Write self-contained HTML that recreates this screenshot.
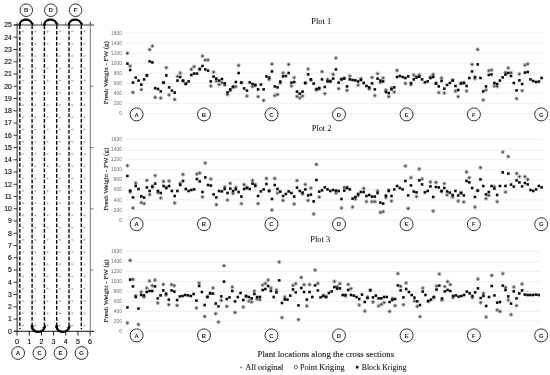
<!DOCTYPE html><html><head><meta charset="utf-8"><title>Figure</title>
<style>
html,body{margin:0;padding:0;background:#fff;}
svg{display:block;filter:blur(0.3px);}
.sans{font-family:"Liberation Sans",sans-serif;}
.serif{font-family:"Liberation Serif",serif;}
</style></head><body>
<svg width="550" height="375" viewBox="0 0 550 375">
<rect width="550" height="375" fill="#fff"/>
<g id="left">
<line x1="17.1" y1="24.0" x2="17.1" y2="331.8" stroke="#222" stroke-width="1"/>
<line x1="14.100000000000001" y1="331.3" x2="94.12" y2="331.3" stroke="#111" stroke-width="1"/>
<line x1="14.100000000000001" y1="25.0" x2="94.12" y2="25.0" stroke="#222" stroke-width="0.9"/>
<line x1="90.32000000000001" y1="21.5" x2="90.32000000000001" y2="331.8" stroke="#777" stroke-width="1"/>
<line x1="13.500000000000002" y1="331.30" x2="17.1" y2="331.30" stroke="#222" stroke-width="0.9"/>
<text class="sans" x="11.8" y="333.70" font-size="6.9" text-anchor="end" fill="#111" stroke="#111" stroke-width="0.15">0</text>
<line x1="13.500000000000002" y1="319.05" x2="17.1" y2="319.05" stroke="#222" stroke-width="0.9"/>
<text class="sans" x="11.8" y="321.45" font-size="6.9" text-anchor="end" fill="#111" stroke="#111" stroke-width="0.15">1</text>
<line x1="13.500000000000002" y1="306.80" x2="17.1" y2="306.80" stroke="#222" stroke-width="0.9"/>
<text class="sans" x="11.8" y="309.20" font-size="6.9" text-anchor="end" fill="#111" stroke="#111" stroke-width="0.15">2</text>
<line x1="13.500000000000002" y1="294.54" x2="17.1" y2="294.54" stroke="#222" stroke-width="0.9"/>
<text class="sans" x="11.8" y="296.94" font-size="6.9" text-anchor="end" fill="#111" stroke="#111" stroke-width="0.15">3</text>
<line x1="13.500000000000002" y1="282.29" x2="17.1" y2="282.29" stroke="#222" stroke-width="0.9"/>
<text class="sans" x="11.8" y="284.69" font-size="6.9" text-anchor="end" fill="#111" stroke="#111" stroke-width="0.15">4</text>
<line x1="13.500000000000002" y1="270.04" x2="17.1" y2="270.04" stroke="#222" stroke-width="0.9"/>
<text class="sans" x="11.8" y="272.44" font-size="6.9" text-anchor="end" fill="#111" stroke="#111" stroke-width="0.15">5</text>
<line x1="13.500000000000002" y1="257.79" x2="17.1" y2="257.79" stroke="#222" stroke-width="0.9"/>
<text class="sans" x="11.8" y="260.19" font-size="6.9" text-anchor="end" fill="#111" stroke="#111" stroke-width="0.15">6</text>
<line x1="13.500000000000002" y1="245.54" x2="17.1" y2="245.54" stroke="#222" stroke-width="0.9"/>
<text class="sans" x="11.8" y="247.94" font-size="6.9" text-anchor="end" fill="#111" stroke="#111" stroke-width="0.15">7</text>
<line x1="13.500000000000002" y1="233.28" x2="17.1" y2="233.28" stroke="#222" stroke-width="0.9"/>
<text class="sans" x="11.8" y="235.68" font-size="6.9" text-anchor="end" fill="#111" stroke="#111" stroke-width="0.15">8</text>
<line x1="13.500000000000002" y1="221.03" x2="17.1" y2="221.03" stroke="#222" stroke-width="0.9"/>
<text class="sans" x="11.8" y="223.43" font-size="6.9" text-anchor="end" fill="#111" stroke="#111" stroke-width="0.15">9</text>
<line x1="13.500000000000002" y1="208.78" x2="17.1" y2="208.78" stroke="#222" stroke-width="0.9"/>
<text class="sans" x="11.8" y="211.18" font-size="6.9" text-anchor="end" fill="#111" stroke="#111" stroke-width="0.15">10</text>
<line x1="13.500000000000002" y1="196.53" x2="17.1" y2="196.53" stroke="#222" stroke-width="0.9"/>
<text class="sans" x="11.8" y="198.93" font-size="6.9" text-anchor="end" fill="#111" stroke="#111" stroke-width="0.15">11</text>
<line x1="13.500000000000002" y1="184.28" x2="17.1" y2="184.28" stroke="#222" stroke-width="0.9"/>
<text class="sans" x="11.8" y="186.68" font-size="6.9" text-anchor="end" fill="#111" stroke="#111" stroke-width="0.15">12</text>
<line x1="13.500000000000002" y1="172.02" x2="17.1" y2="172.02" stroke="#222" stroke-width="0.9"/>
<text class="sans" x="11.8" y="174.42" font-size="6.9" text-anchor="end" fill="#111" stroke="#111" stroke-width="0.15">13</text>
<line x1="13.500000000000002" y1="159.77" x2="17.1" y2="159.77" stroke="#222" stroke-width="0.9"/>
<text class="sans" x="11.8" y="162.17" font-size="6.9" text-anchor="end" fill="#111" stroke="#111" stroke-width="0.15">14</text>
<line x1="13.500000000000002" y1="147.52" x2="17.1" y2="147.52" stroke="#222" stroke-width="0.9"/>
<text class="sans" x="11.8" y="149.92" font-size="6.9" text-anchor="end" fill="#111" stroke="#111" stroke-width="0.15">15</text>
<line x1="13.500000000000002" y1="135.27" x2="17.1" y2="135.27" stroke="#222" stroke-width="0.9"/>
<text class="sans" x="11.8" y="137.67" font-size="6.9" text-anchor="end" fill="#111" stroke="#111" stroke-width="0.15">16</text>
<line x1="13.500000000000002" y1="123.02" x2="17.1" y2="123.02" stroke="#222" stroke-width="0.9"/>
<text class="sans" x="11.8" y="125.42" font-size="6.9" text-anchor="end" fill="#111" stroke="#111" stroke-width="0.15">17</text>
<line x1="13.500000000000002" y1="110.76" x2="17.1" y2="110.76" stroke="#222" stroke-width="0.9"/>
<text class="sans" x="11.8" y="113.16" font-size="6.9" text-anchor="end" fill="#111" stroke="#111" stroke-width="0.15">18</text>
<line x1="13.500000000000002" y1="98.51" x2="17.1" y2="98.51" stroke="#222" stroke-width="0.9"/>
<text class="sans" x="11.8" y="100.91" font-size="6.9" text-anchor="end" fill="#111" stroke="#111" stroke-width="0.15">19</text>
<line x1="13.500000000000002" y1="86.26" x2="17.1" y2="86.26" stroke="#222" stroke-width="0.9"/>
<text class="sans" x="11.8" y="88.66" font-size="6.9" text-anchor="end" fill="#111" stroke="#111" stroke-width="0.15">20</text>
<line x1="13.500000000000002" y1="74.01" x2="17.1" y2="74.01" stroke="#222" stroke-width="0.9"/>
<text class="sans" x="11.8" y="76.41" font-size="6.9" text-anchor="end" fill="#111" stroke="#111" stroke-width="0.15">21</text>
<line x1="13.500000000000002" y1="61.76" x2="17.1" y2="61.76" stroke="#222" stroke-width="0.9"/>
<text class="sans" x="11.8" y="64.16" font-size="6.9" text-anchor="end" fill="#111" stroke="#111" stroke-width="0.15">22</text>
<line x1="13.500000000000002" y1="49.50" x2="17.1" y2="49.50" stroke="#222" stroke-width="0.9"/>
<text class="sans" x="11.8" y="51.90" font-size="6.9" text-anchor="end" fill="#111" stroke="#111" stroke-width="0.15">23</text>
<line x1="13.500000000000002" y1="37.25" x2="17.1" y2="37.25" stroke="#222" stroke-width="0.9"/>
<text class="sans" x="11.8" y="39.65" font-size="6.9" text-anchor="end" fill="#111" stroke="#111" stroke-width="0.15">24</text>
<line x1="13.500000000000002" y1="25.00" x2="17.1" y2="25.00" stroke="#222" stroke-width="0.9"/>
<text class="sans" x="11.8" y="27.40" font-size="6.9" text-anchor="end" fill="#111" stroke="#111" stroke-width="0.15">25</text>
<line x1="90.42" y1="270.04" x2="93.62" y2="270.04" stroke="#666" stroke-width="0.8"/>
<line x1="90.42" y1="208.78" x2="93.62" y2="208.78" stroke="#666" stroke-width="0.8"/>
<line x1="90.42" y1="147.52" x2="93.62" y2="147.52" stroke="#666" stroke-width="0.8"/>
<line x1="90.42" y1="86.26" x2="93.62" y2="86.26" stroke="#666" stroke-width="0.8"/>
<line x1="17.10" y1="331.3" x2="17.10" y2="335.6" stroke="#222" stroke-width="1"/>
<text class="sans" x="17.10" y="343.5" font-size="7.2" text-anchor="middle" fill="#111" stroke="#111" stroke-width="0.15">0</text>
<line x1="29.27" y1="331.3" x2="29.27" y2="335.6" stroke="#222" stroke-width="1"/>
<text class="sans" x="29.27" y="343.5" font-size="7.2" text-anchor="middle" fill="#111" stroke="#111" stroke-width="0.15">1</text>
<line x1="41.44" y1="331.3" x2="41.44" y2="335.6" stroke="#222" stroke-width="1"/>
<text class="sans" x="41.44" y="343.5" font-size="7.2" text-anchor="middle" fill="#111" stroke="#111" stroke-width="0.15">2</text>
<line x1="53.61" y1="331.3" x2="53.61" y2="335.6" stroke="#222" stroke-width="1"/>
<text class="sans" x="53.61" y="343.5" font-size="7.2" text-anchor="middle" fill="#111" stroke="#111" stroke-width="0.15">3</text>
<line x1="65.78" y1="331.3" x2="65.78" y2="335.6" stroke="#222" stroke-width="1"/>
<text class="sans" x="65.78" y="343.5" font-size="7.2" text-anchor="middle" fill="#111" stroke="#111" stroke-width="0.15">4</text>
<line x1="77.95" y1="331.3" x2="77.95" y2="335.6" stroke="#222" stroke-width="1"/>
<text class="sans" x="77.95" y="343.5" font-size="7.2" text-anchor="middle" fill="#111" stroke="#111" stroke-width="0.15">5</text>
<line x1="90.12" y1="331.3" x2="90.12" y2="335.6" stroke="#222" stroke-width="1"/>
<text class="sans" x="90.12" y="343.5" font-size="7.2" text-anchor="middle" fill="#111" stroke="#111" stroke-width="0.15">6</text>
<line x1="17.10" y1="25.0" x2="17.10" y2="22.2" stroke="#444" stroke-width="0.8"/>
<line x1="41.44" y1="25.0" x2="41.44" y2="22.2" stroke="#444" stroke-width="0.8"/>
<line x1="65.78" y1="25.0" x2="65.78" y2="22.2" stroke="#444" stroke-width="0.8"/>
<line x1="90.12" y1="25.0" x2="90.12" y2="22.2" stroke="#444" stroke-width="0.8"/>
<line x1="19.8" y1="25.5" x2="19.8" y2="329.3" stroke="#0a0a0a" stroke-width="1.4" stroke-dasharray="3.7 1.8"/>
<line x1="32.1" y1="25.5" x2="32.1" y2="329.3" stroke="#0a0a0a" stroke-width="1.4" stroke-dasharray="3.7 1.8"/>
<line x1="44.4" y1="25.5" x2="44.4" y2="329.3" stroke="#0a0a0a" stroke-width="1.4" stroke-dasharray="3.7 1.8"/>
<line x1="56.7" y1="25.5" x2="56.7" y2="329.3" stroke="#0a0a0a" stroke-width="1.4" stroke-dasharray="3.7 1.8"/>
<line x1="69.0" y1="25.5" x2="69.0" y2="329.3" stroke="#0a0a0a" stroke-width="1.4" stroke-dasharray="3.7 1.8"/>
<line x1="81.3" y1="25.5" x2="81.3" y2="329.3" stroke="#0a0a0a" stroke-width="1.4" stroke-dasharray="3.7 1.8"/>
<path d="M21.80 325.57h2.4M23.00 324.37v2.4" stroke="#959595" stroke-width="0.55" fill="none"/>
<path d="M21.80 313.32h2.4M23.00 312.12v2.4" stroke="#959595" stroke-width="0.55" fill="none"/>
<path d="M21.80 301.07h2.4M23.00 299.87v2.4" stroke="#959595" stroke-width="0.55" fill="none"/>
<path d="M21.80 288.82h2.4M23.00 287.62v2.4" stroke="#959595" stroke-width="0.55" fill="none"/>
<path d="M21.80 276.57h2.4M23.00 275.37v2.4" stroke="#959595" stroke-width="0.55" fill="none"/>
<path d="M21.80 264.31h2.4M23.00 263.11v2.4" stroke="#959595" stroke-width="0.55" fill="none"/>
<path d="M21.80 252.06h2.4M23.00 250.86v2.4" stroke="#959595" stroke-width="0.55" fill="none"/>
<path d="M21.80 239.81h2.4M23.00 238.61v2.4" stroke="#959595" stroke-width="0.55" fill="none"/>
<path d="M21.80 227.56h2.4M23.00 226.36v2.4" stroke="#959595" stroke-width="0.55" fill="none"/>
<path d="M21.80 215.31h2.4M23.00 214.11v2.4" stroke="#959595" stroke-width="0.55" fill="none"/>
<path d="M21.80 203.05h2.4M23.00 201.85v2.4" stroke="#959595" stroke-width="0.55" fill="none"/>
<path d="M21.80 190.80h2.4M23.00 189.60v2.4" stroke="#959595" stroke-width="0.55" fill="none"/>
<path d="M21.80 178.55h2.4M23.00 177.35v2.4" stroke="#959595" stroke-width="0.55" fill="none"/>
<path d="M21.80 166.30h2.4M23.00 165.10v2.4" stroke="#959595" stroke-width="0.55" fill="none"/>
<path d="M21.80 154.05h2.4M23.00 152.85v2.4" stroke="#959595" stroke-width="0.55" fill="none"/>
<path d="M21.80 141.79h2.4M23.00 140.59v2.4" stroke="#959595" stroke-width="0.55" fill="none"/>
<path d="M21.80 129.54h2.4M23.00 128.34v2.4" stroke="#959595" stroke-width="0.55" fill="none"/>
<path d="M21.80 117.29h2.4M23.00 116.09v2.4" stroke="#959595" stroke-width="0.55" fill="none"/>
<path d="M21.80 105.04h2.4M23.00 103.84v2.4" stroke="#959595" stroke-width="0.55" fill="none"/>
<path d="M21.80 92.79h2.4M23.00 91.59v2.4" stroke="#959595" stroke-width="0.55" fill="none"/>
<path d="M21.80 80.53h2.4M23.00 79.33v2.4" stroke="#959595" stroke-width="0.55" fill="none"/>
<path d="M21.80 68.28h2.4M23.00 67.08v2.4" stroke="#959595" stroke-width="0.55" fill="none"/>
<path d="M21.80 56.03h2.4M23.00 54.83v2.4" stroke="#959595" stroke-width="0.55" fill="none"/>
<path d="M21.80 43.78h2.4M23.00 42.58v2.4" stroke="#959595" stroke-width="0.55" fill="none"/>
<path d="M21.80 31.53h2.4M23.00 30.33v2.4" stroke="#959595" stroke-width="0.55" fill="none"/>
<path d="M34.10 325.57h2.4M35.30 324.37v2.4" stroke="#959595" stroke-width="0.55" fill="none"/>
<path d="M34.10 313.32h2.4M35.30 312.12v2.4" stroke="#959595" stroke-width="0.55" fill="none"/>
<path d="M34.10 301.07h2.4M35.30 299.87v2.4" stroke="#959595" stroke-width="0.55" fill="none"/>
<path d="M34.10 288.82h2.4M35.30 287.62v2.4" stroke="#959595" stroke-width="0.55" fill="none"/>
<path d="M34.10 276.57h2.4M35.30 275.37v2.4" stroke="#959595" stroke-width="0.55" fill="none"/>
<path d="M34.10 264.31h2.4M35.30 263.11v2.4" stroke="#959595" stroke-width="0.55" fill="none"/>
<path d="M34.10 252.06h2.4M35.30 250.86v2.4" stroke="#959595" stroke-width="0.55" fill="none"/>
<path d="M34.10 239.81h2.4M35.30 238.61v2.4" stroke="#959595" stroke-width="0.55" fill="none"/>
<path d="M34.10 227.56h2.4M35.30 226.36v2.4" stroke="#959595" stroke-width="0.55" fill="none"/>
<path d="M34.10 215.31h2.4M35.30 214.11v2.4" stroke="#959595" stroke-width="0.55" fill="none"/>
<path d="M34.10 203.05h2.4M35.30 201.85v2.4" stroke="#959595" stroke-width="0.55" fill="none"/>
<path d="M34.10 190.80h2.4M35.30 189.60v2.4" stroke="#959595" stroke-width="0.55" fill="none"/>
<path d="M34.10 178.55h2.4M35.30 177.35v2.4" stroke="#959595" stroke-width="0.55" fill="none"/>
<path d="M34.10 166.30h2.4M35.30 165.10v2.4" stroke="#959595" stroke-width="0.55" fill="none"/>
<path d="M34.10 154.05h2.4M35.30 152.85v2.4" stroke="#959595" stroke-width="0.55" fill="none"/>
<path d="M34.10 141.79h2.4M35.30 140.59v2.4" stroke="#959595" stroke-width="0.55" fill="none"/>
<path d="M34.10 129.54h2.4M35.30 128.34v2.4" stroke="#959595" stroke-width="0.55" fill="none"/>
<path d="M34.10 117.29h2.4M35.30 116.09v2.4" stroke="#959595" stroke-width="0.55" fill="none"/>
<path d="M34.10 105.04h2.4M35.30 103.84v2.4" stroke="#959595" stroke-width="0.55" fill="none"/>
<path d="M34.10 92.79h2.4M35.30 91.59v2.4" stroke="#959595" stroke-width="0.55" fill="none"/>
<path d="M34.10 80.53h2.4M35.30 79.33v2.4" stroke="#959595" stroke-width="0.55" fill="none"/>
<path d="M34.10 68.28h2.4M35.30 67.08v2.4" stroke="#959595" stroke-width="0.55" fill="none"/>
<path d="M34.10 56.03h2.4M35.30 54.83v2.4" stroke="#959595" stroke-width="0.55" fill="none"/>
<path d="M34.10 43.78h2.4M35.30 42.58v2.4" stroke="#959595" stroke-width="0.55" fill="none"/>
<path d="M34.10 31.53h2.4M35.30 30.33v2.4" stroke="#959595" stroke-width="0.55" fill="none"/>
<path d="M46.40 325.57h2.4M47.60 324.37v2.4" stroke="#959595" stroke-width="0.55" fill="none"/>
<path d="M46.40 313.32h2.4M47.60 312.12v2.4" stroke="#959595" stroke-width="0.55" fill="none"/>
<path d="M46.40 301.07h2.4M47.60 299.87v2.4" stroke="#959595" stroke-width="0.55" fill="none"/>
<path d="M46.40 288.82h2.4M47.60 287.62v2.4" stroke="#959595" stroke-width="0.55" fill="none"/>
<path d="M46.40 276.57h2.4M47.60 275.37v2.4" stroke="#959595" stroke-width="0.55" fill="none"/>
<path d="M46.40 264.31h2.4M47.60 263.11v2.4" stroke="#959595" stroke-width="0.55" fill="none"/>
<path d="M46.40 252.06h2.4M47.60 250.86v2.4" stroke="#959595" stroke-width="0.55" fill="none"/>
<path d="M46.40 239.81h2.4M47.60 238.61v2.4" stroke="#959595" stroke-width="0.55" fill="none"/>
<path d="M46.40 227.56h2.4M47.60 226.36v2.4" stroke="#959595" stroke-width="0.55" fill="none"/>
<path d="M46.40 215.31h2.4M47.60 214.11v2.4" stroke="#959595" stroke-width="0.55" fill="none"/>
<path d="M46.40 203.05h2.4M47.60 201.85v2.4" stroke="#959595" stroke-width="0.55" fill="none"/>
<path d="M46.40 190.80h2.4M47.60 189.60v2.4" stroke="#959595" stroke-width="0.55" fill="none"/>
<path d="M46.40 178.55h2.4M47.60 177.35v2.4" stroke="#959595" stroke-width="0.55" fill="none"/>
<path d="M46.40 166.30h2.4M47.60 165.10v2.4" stroke="#959595" stroke-width="0.55" fill="none"/>
<path d="M46.40 154.05h2.4M47.60 152.85v2.4" stroke="#959595" stroke-width="0.55" fill="none"/>
<path d="M46.40 141.79h2.4M47.60 140.59v2.4" stroke="#959595" stroke-width="0.55" fill="none"/>
<path d="M46.40 129.54h2.4M47.60 128.34v2.4" stroke="#959595" stroke-width="0.55" fill="none"/>
<path d="M46.40 117.29h2.4M47.60 116.09v2.4" stroke="#959595" stroke-width="0.55" fill="none"/>
<path d="M46.40 105.04h2.4M47.60 103.84v2.4" stroke="#959595" stroke-width="0.55" fill="none"/>
<path d="M46.40 92.79h2.4M47.60 91.59v2.4" stroke="#959595" stroke-width="0.55" fill="none"/>
<path d="M46.40 80.53h2.4M47.60 79.33v2.4" stroke="#959595" stroke-width="0.55" fill="none"/>
<path d="M46.40 68.28h2.4M47.60 67.08v2.4" stroke="#959595" stroke-width="0.55" fill="none"/>
<path d="M46.40 56.03h2.4M47.60 54.83v2.4" stroke="#959595" stroke-width="0.55" fill="none"/>
<path d="M46.40 43.78h2.4M47.60 42.58v2.4" stroke="#959595" stroke-width="0.55" fill="none"/>
<path d="M46.40 31.53h2.4M47.60 30.33v2.4" stroke="#959595" stroke-width="0.55" fill="none"/>
<path d="M58.70 325.57h2.4M59.90 324.37v2.4" stroke="#959595" stroke-width="0.55" fill="none"/>
<path d="M58.70 313.32h2.4M59.90 312.12v2.4" stroke="#959595" stroke-width="0.55" fill="none"/>
<path d="M58.70 301.07h2.4M59.90 299.87v2.4" stroke="#959595" stroke-width="0.55" fill="none"/>
<path d="M58.70 288.82h2.4M59.90 287.62v2.4" stroke="#959595" stroke-width="0.55" fill="none"/>
<path d="M58.70 276.57h2.4M59.90 275.37v2.4" stroke="#959595" stroke-width="0.55" fill="none"/>
<path d="M58.70 264.31h2.4M59.90 263.11v2.4" stroke="#959595" stroke-width="0.55" fill="none"/>
<path d="M58.70 252.06h2.4M59.90 250.86v2.4" stroke="#959595" stroke-width="0.55" fill="none"/>
<path d="M58.70 239.81h2.4M59.90 238.61v2.4" stroke="#959595" stroke-width="0.55" fill="none"/>
<path d="M58.70 227.56h2.4M59.90 226.36v2.4" stroke="#959595" stroke-width="0.55" fill="none"/>
<path d="M58.70 215.31h2.4M59.90 214.11v2.4" stroke="#959595" stroke-width="0.55" fill="none"/>
<path d="M58.70 203.05h2.4M59.90 201.85v2.4" stroke="#959595" stroke-width="0.55" fill="none"/>
<path d="M58.70 190.80h2.4M59.90 189.60v2.4" stroke="#959595" stroke-width="0.55" fill="none"/>
<path d="M58.70 178.55h2.4M59.90 177.35v2.4" stroke="#959595" stroke-width="0.55" fill="none"/>
<path d="M58.70 166.30h2.4M59.90 165.10v2.4" stroke="#959595" stroke-width="0.55" fill="none"/>
<path d="M58.70 154.05h2.4M59.90 152.85v2.4" stroke="#959595" stroke-width="0.55" fill="none"/>
<path d="M58.70 141.79h2.4M59.90 140.59v2.4" stroke="#959595" stroke-width="0.55" fill="none"/>
<path d="M58.70 129.54h2.4M59.90 128.34v2.4" stroke="#959595" stroke-width="0.55" fill="none"/>
<path d="M58.70 117.29h2.4M59.90 116.09v2.4" stroke="#959595" stroke-width="0.55" fill="none"/>
<path d="M58.70 105.04h2.4M59.90 103.84v2.4" stroke="#959595" stroke-width="0.55" fill="none"/>
<path d="M58.70 92.79h2.4M59.90 91.59v2.4" stroke="#959595" stroke-width="0.55" fill="none"/>
<path d="M58.70 80.53h2.4M59.90 79.33v2.4" stroke="#959595" stroke-width="0.55" fill="none"/>
<path d="M58.70 68.28h2.4M59.90 67.08v2.4" stroke="#959595" stroke-width="0.55" fill="none"/>
<path d="M58.70 56.03h2.4M59.90 54.83v2.4" stroke="#959595" stroke-width="0.55" fill="none"/>
<path d="M58.70 43.78h2.4M59.90 42.58v2.4" stroke="#959595" stroke-width="0.55" fill="none"/>
<path d="M58.70 31.53h2.4M59.90 30.33v2.4" stroke="#959595" stroke-width="0.55" fill="none"/>
<path d="M71.00 325.57h2.4M72.20 324.37v2.4" stroke="#959595" stroke-width="0.55" fill="none"/>
<path d="M71.00 313.32h2.4M72.20 312.12v2.4" stroke="#959595" stroke-width="0.55" fill="none"/>
<path d="M71.00 301.07h2.4M72.20 299.87v2.4" stroke="#959595" stroke-width="0.55" fill="none"/>
<path d="M71.00 288.82h2.4M72.20 287.62v2.4" stroke="#959595" stroke-width="0.55" fill="none"/>
<path d="M71.00 276.57h2.4M72.20 275.37v2.4" stroke="#959595" stroke-width="0.55" fill="none"/>
<path d="M71.00 264.31h2.4M72.20 263.11v2.4" stroke="#959595" stroke-width="0.55" fill="none"/>
<path d="M71.00 252.06h2.4M72.20 250.86v2.4" stroke="#959595" stroke-width="0.55" fill="none"/>
<path d="M71.00 239.81h2.4M72.20 238.61v2.4" stroke="#959595" stroke-width="0.55" fill="none"/>
<path d="M71.00 227.56h2.4M72.20 226.36v2.4" stroke="#959595" stroke-width="0.55" fill="none"/>
<path d="M71.00 215.31h2.4M72.20 214.11v2.4" stroke="#959595" stroke-width="0.55" fill="none"/>
<path d="M71.00 203.05h2.4M72.20 201.85v2.4" stroke="#959595" stroke-width="0.55" fill="none"/>
<path d="M71.00 190.80h2.4M72.20 189.60v2.4" stroke="#959595" stroke-width="0.55" fill="none"/>
<path d="M71.00 178.55h2.4M72.20 177.35v2.4" stroke="#959595" stroke-width="0.55" fill="none"/>
<path d="M71.00 166.30h2.4M72.20 165.10v2.4" stroke="#959595" stroke-width="0.55" fill="none"/>
<path d="M71.00 154.05h2.4M72.20 152.85v2.4" stroke="#959595" stroke-width="0.55" fill="none"/>
<path d="M71.00 141.79h2.4M72.20 140.59v2.4" stroke="#959595" stroke-width="0.55" fill="none"/>
<path d="M71.00 129.54h2.4M72.20 128.34v2.4" stroke="#959595" stroke-width="0.55" fill="none"/>
<path d="M71.00 117.29h2.4M72.20 116.09v2.4" stroke="#959595" stroke-width="0.55" fill="none"/>
<path d="M71.00 105.04h2.4M72.20 103.84v2.4" stroke="#959595" stroke-width="0.55" fill="none"/>
<path d="M71.00 92.79h2.4M72.20 91.59v2.4" stroke="#959595" stroke-width="0.55" fill="none"/>
<path d="M71.00 80.53h2.4M72.20 79.33v2.4" stroke="#959595" stroke-width="0.55" fill="none"/>
<path d="M71.00 68.28h2.4M72.20 67.08v2.4" stroke="#959595" stroke-width="0.55" fill="none"/>
<path d="M71.00 56.03h2.4M72.20 54.83v2.4" stroke="#959595" stroke-width="0.55" fill="none"/>
<path d="M71.00 43.78h2.4M72.20 42.58v2.4" stroke="#959595" stroke-width="0.55" fill="none"/>
<path d="M71.00 31.53h2.4M72.20 30.33v2.4" stroke="#959595" stroke-width="0.55" fill="none"/>
<path d="M83.30 325.57h2.4M84.50 324.37v2.4" stroke="#959595" stroke-width="0.55" fill="none"/>
<path d="M83.30 313.32h2.4M84.50 312.12v2.4" stroke="#959595" stroke-width="0.55" fill="none"/>
<path d="M83.30 301.07h2.4M84.50 299.87v2.4" stroke="#959595" stroke-width="0.55" fill="none"/>
<path d="M83.30 288.82h2.4M84.50 287.62v2.4" stroke="#959595" stroke-width="0.55" fill="none"/>
<path d="M83.30 276.57h2.4M84.50 275.37v2.4" stroke="#959595" stroke-width="0.55" fill="none"/>
<path d="M83.30 264.31h2.4M84.50 263.11v2.4" stroke="#959595" stroke-width="0.55" fill="none"/>
<path d="M83.30 252.06h2.4M84.50 250.86v2.4" stroke="#959595" stroke-width="0.55" fill="none"/>
<path d="M83.30 239.81h2.4M84.50 238.61v2.4" stroke="#959595" stroke-width="0.55" fill="none"/>
<path d="M83.30 227.56h2.4M84.50 226.36v2.4" stroke="#959595" stroke-width="0.55" fill="none"/>
<path d="M83.30 215.31h2.4M84.50 214.11v2.4" stroke="#959595" stroke-width="0.55" fill="none"/>
<path d="M83.30 203.05h2.4M84.50 201.85v2.4" stroke="#959595" stroke-width="0.55" fill="none"/>
<path d="M83.30 190.80h2.4M84.50 189.60v2.4" stroke="#959595" stroke-width="0.55" fill="none"/>
<path d="M83.30 178.55h2.4M84.50 177.35v2.4" stroke="#959595" stroke-width="0.55" fill="none"/>
<path d="M83.30 166.30h2.4M84.50 165.10v2.4" stroke="#959595" stroke-width="0.55" fill="none"/>
<path d="M83.30 154.05h2.4M84.50 152.85v2.4" stroke="#959595" stroke-width="0.55" fill="none"/>
<path d="M83.30 141.79h2.4M84.50 140.59v2.4" stroke="#959595" stroke-width="0.55" fill="none"/>
<path d="M83.30 129.54h2.4M84.50 128.34v2.4" stroke="#959595" stroke-width="0.55" fill="none"/>
<path d="M83.30 117.29h2.4M84.50 116.09v2.4" stroke="#959595" stroke-width="0.55" fill="none"/>
<path d="M83.30 105.04h2.4M84.50 103.84v2.4" stroke="#959595" stroke-width="0.55" fill="none"/>
<path d="M83.30 92.79h2.4M84.50 91.59v2.4" stroke="#959595" stroke-width="0.55" fill="none"/>
<path d="M83.30 80.53h2.4M84.50 79.33v2.4" stroke="#959595" stroke-width="0.55" fill="none"/>
<path d="M83.30 68.28h2.4M84.50 67.08v2.4" stroke="#959595" stroke-width="0.55" fill="none"/>
<path d="M83.30 56.03h2.4M84.50 54.83v2.4" stroke="#959595" stroke-width="0.55" fill="none"/>
<path d="M83.30 43.78h2.4M84.50 42.58v2.4" stroke="#959595" stroke-width="0.55" fill="none"/>
<path d="M83.30 31.53h2.4M84.50 30.33v2.4" stroke="#959595" stroke-width="0.55" fill="none"/>
<path d="M19.8 25.3 A6.15 4.9 0 0 1 32.1 23.8" stroke="#000" stroke-width="2.1" fill="none"/>
<path d="M18.6 25.6 v-2.2 h2.4 v2.2z" fill="#000"/>
<path d="M30.200000000000003 22.8 L33.800000000000004 23.0 L32.7 25.9 z" fill="#000"/>
<path d="M44.4 25.3 A6.150000000000002 4.9 0 0 1 56.7 23.8" stroke="#000" stroke-width="2.1" fill="none"/>
<path d="M43.199999999999996 25.6 v-2.2 h2.4 v2.2z" fill="#000"/>
<path d="M54.800000000000004 22.8 L58.400000000000006 23.0 L57.300000000000004 25.9 z" fill="#000"/>
<path d="M69.0 25.3 A6.149999999999999 4.9 0 0 1 81.3 23.8" stroke="#000" stroke-width="2.1" fill="none"/>
<path d="M67.8 25.6 v-2.2 h2.4 v2.2z" fill="#000"/>
<path d="M79.39999999999999 22.8 L83.0 23.0 L81.89999999999999 25.9 z" fill="#000"/>
<path d="M32.1 326.3 A6.149999999999999 5.2 0 0 0 44.4 327.1" stroke="#000" stroke-width="2.2" fill="none"/>
<path d="M30.700000000000003 325.1 h2.8 v2.6 h-2.8z" fill="#000"/>
<path d="M42.199999999999996 327.90000000000003 L45.699999999999996 324.7 L45.8 328.3 z" fill="#000"/>
<path d="M56.7 326.3 A6.149999999999999 5.2 0 0 0 69.0 327.1" stroke="#000" stroke-width="2.2" fill="none"/>
<path d="M55.300000000000004 325.1 h2.8 v2.6 h-2.8z" fill="#000"/>
<path d="M66.8 327.90000000000003 L70.3 324.7 L70.4 328.3 z" fill="#000"/>
<circle cx="26.3" cy="10.2" r="6.3" fill="#fff" stroke="#1a1a1a" stroke-width="0.9"/>
<text class="sans" x="26.3" y="12.40" font-size="6.2" font-weight="bold" text-anchor="middle" fill="#222">B</text>
<circle cx="50.8" cy="10.2" r="6.3" fill="#fff" stroke="#1a1a1a" stroke-width="0.9"/>
<text class="sans" x="50.8" y="12.40" font-size="6.2" font-weight="bold" text-anchor="middle" fill="#222">D</text>
<circle cx="75.6" cy="10.2" r="6.3" fill="#fff" stroke="#1a1a1a" stroke-width="0.9"/>
<text class="sans" x="75.6" y="12.40" font-size="6.2" font-weight="bold" text-anchor="middle" fill="#222">F</text>
<circle cx="18.1" cy="353.0" r="6.4" fill="#fff" stroke="#1a1a1a" stroke-width="0.9"/>
<text class="sans" x="18.1" y="355.20" font-size="6.2" font-weight="bold" text-anchor="middle" fill="#222">A</text>
<circle cx="39.4" cy="353.0" r="6.4" fill="#fff" stroke="#1a1a1a" stroke-width="0.9"/>
<text class="sans" x="39.4" y="355.20" font-size="6.2" font-weight="bold" text-anchor="middle" fill="#222">C</text>
<circle cx="60.5" cy="353.0" r="6.4" fill="#fff" stroke="#1a1a1a" stroke-width="0.9"/>
<text class="sans" x="60.5" y="355.20" font-size="6.2" font-weight="bold" text-anchor="middle" fill="#222">E</text>
<circle cx="81.5" cy="353.0" r="6.4" fill="#fff" stroke="#1a1a1a" stroke-width="0.9"/>
<text class="sans" x="81.5" y="355.20" font-size="6.2" font-weight="bold" text-anchor="middle" fill="#222">G</text>
</g>
<g id="plot1">
<line x1="126.0" y1="33.00" x2="543.5" y2="33.00" stroke="#e8e8e8" stroke-width="0.7"/>
<text class="sans" x="122" y="34.60" font-size="4.9" text-anchor="end" fill="#6e6e6e">1600</text>
<line x1="126.0" y1="43.05" x2="543.5" y2="43.05" stroke="#e8e8e8" stroke-width="0.7"/>
<text class="sans" x="122" y="44.65" font-size="4.9" text-anchor="end" fill="#6e6e6e">1400</text>
<line x1="126.0" y1="53.10" x2="543.5" y2="53.10" stroke="#e8e8e8" stroke-width="0.7"/>
<text class="sans" x="122" y="54.70" font-size="4.9" text-anchor="end" fill="#6e6e6e">1200</text>
<line x1="126.0" y1="63.15" x2="543.5" y2="63.15" stroke="#e8e8e8" stroke-width="0.7"/>
<text class="sans" x="122" y="64.75" font-size="4.9" text-anchor="end" fill="#6e6e6e">1000</text>
<line x1="126.0" y1="73.20" x2="543.5" y2="73.20" stroke="#e8e8e8" stroke-width="0.7"/>
<text class="sans" x="122" y="74.80" font-size="4.9" text-anchor="end" fill="#6e6e6e">800</text>
<line x1="126.0" y1="83.25" x2="543.5" y2="83.25" stroke="#e8e8e8" stroke-width="0.7"/>
<text class="sans" x="122" y="84.85" font-size="4.9" text-anchor="end" fill="#6e6e6e">600</text>
<line x1="126.0" y1="93.30" x2="543.5" y2="93.30" stroke="#e8e8e8" stroke-width="0.7"/>
<text class="sans" x="122" y="94.90" font-size="4.9" text-anchor="end" fill="#6e6e6e">400</text>
<line x1="126.0" y1="103.35" x2="543.5" y2="103.35" stroke="#e8e8e8" stroke-width="0.7"/>
<text class="sans" x="122" y="104.95" font-size="4.9" text-anchor="end" fill="#6e6e6e">200</text>
<line x1="126.0" y1="113.40" x2="543.5" y2="113.40" stroke="#e8e8e8" stroke-width="0.7"/>
<text class="sans" x="122" y="115.00" font-size="4.9" text-anchor="end" fill="#6e6e6e">0</text>
<text class="serif" x="321.2" y="24.00" font-size="8.8" text-anchor="middle" fill="#000" textLength="19.8" lengthAdjust="spacingAndGlyphs">Plot 1</text>
<text class="serif" transform="translate(107.5,72.70) rotate(-90)" font-size="7.1" text-anchor="middle" fill="#111" stroke="#111" stroke-width="0.12" textLength="63" lengthAdjust="spacingAndGlyphs">Fresh Weight - FW (g)</text>
<circle cx="127.40" cy="53.20" r="1.7" fill="#b4b4b4" stroke="#8c8c8c" stroke-width="0.55"/><circle cx="127.40" cy="53.20" r="0.85" fill="#2a2a2a"/>
<circle cx="130.18" cy="66.00" r="1.7" fill="#b4b4b4" stroke="#8c8c8c" stroke-width="0.55"/><circle cx="130.18" cy="66.00" r="0.85" fill="#2a2a2a"/>
<circle cx="132.96" cy="92.40" r="1.7" fill="#b4b4b4" stroke="#8c8c8c" stroke-width="0.55"/><circle cx="132.96" cy="92.40" r="0.85" fill="#2a2a2a"/>
<circle cx="141.30" cy="89.60" r="1.7" fill="#b4b4b4" stroke="#8c8c8c" stroke-width="0.55"/><circle cx="141.30" cy="89.60" r="0.85" fill="#2a2a2a"/>
<circle cx="146.86" cy="75.60" r="1.7" fill="#b4b4b4" stroke="#8c8c8c" stroke-width="0.55"/><circle cx="146.86" cy="75.60" r="0.85" fill="#2a2a2a"/>
<circle cx="149.64" cy="49.60" r="1.7" fill="#b4b4b4" stroke="#8c8c8c" stroke-width="0.55"/><circle cx="149.64" cy="49.60" r="0.85" fill="#2a2a2a"/>
<circle cx="152.42" cy="46.00" r="1.7" fill="#b4b4b4" stroke="#8c8c8c" stroke-width="0.55"/><circle cx="152.42" cy="46.00" r="0.85" fill="#2a2a2a"/>
<circle cx="155.20" cy="97.40" r="1.7" fill="#b4b4b4" stroke="#8c8c8c" stroke-width="0.55"/><circle cx="155.20" cy="97.40" r="0.85" fill="#2a2a2a"/>
<circle cx="160.76" cy="98.00" r="1.7" fill="#b4b4b4" stroke="#8c8c8c" stroke-width="0.55"/><circle cx="160.76" cy="98.00" r="0.85" fill="#2a2a2a"/>
<circle cx="163.54" cy="82.60" r="1.7" fill="#b4b4b4" stroke="#8c8c8c" stroke-width="0.55"/><circle cx="163.54" cy="82.60" r="0.85" fill="#2a2a2a"/>
<circle cx="166.32" cy="67.60" r="1.7" fill="#b4b4b4" stroke="#8c8c8c" stroke-width="0.55"/><circle cx="166.32" cy="67.60" r="0.85" fill="#2a2a2a"/>
<circle cx="169.10" cy="94.80" r="1.7" fill="#b4b4b4" stroke="#8c8c8c" stroke-width="0.55"/><circle cx="169.10" cy="94.80" r="0.85" fill="#2a2a2a"/>
<circle cx="174.66" cy="99.40" r="1.7" fill="#b4b4b4" stroke="#8c8c8c" stroke-width="0.55"/><circle cx="174.66" cy="99.40" r="0.85" fill="#2a2a2a"/>
<circle cx="177.44" cy="76.40" r="1.7" fill="#b4b4b4" stroke="#8c8c8c" stroke-width="0.55"/><circle cx="177.44" cy="76.40" r="0.85" fill="#2a2a2a"/>
<circle cx="180.22" cy="73.00" r="1.7" fill="#b4b4b4" stroke="#8c8c8c" stroke-width="0.55"/><circle cx="180.22" cy="73.00" r="0.85" fill="#2a2a2a"/>
<circle cx="183.00" cy="81.00" r="1.7" fill="#b4b4b4" stroke="#8c8c8c" stroke-width="0.55"/><circle cx="183.00" cy="81.00" r="0.85" fill="#2a2a2a"/>
<circle cx="185.78" cy="84.00" r="1.7" fill="#b4b4b4" stroke="#8c8c8c" stroke-width="0.55"/><circle cx="185.78" cy="84.00" r="0.85" fill="#2a2a2a"/>
<circle cx="191.34" cy="69.40" r="1.7" fill="#b4b4b4" stroke="#8c8c8c" stroke-width="0.55"/><circle cx="191.34" cy="69.40" r="0.85" fill="#2a2a2a"/>
<circle cx="194.12" cy="66.60" r="1.7" fill="#b4b4b4" stroke="#8c8c8c" stroke-width="0.55"/><circle cx="194.12" cy="66.60" r="0.85" fill="#2a2a2a"/>
<circle cx="199.68" cy="69.40" r="1.7" fill="#b4b4b4" stroke="#8c8c8c" stroke-width="0.55"/><circle cx="199.68" cy="69.40" r="0.85" fill="#2a2a2a"/>
<circle cx="202.46" cy="56.00" r="1.7" fill="#b4b4b4" stroke="#8c8c8c" stroke-width="0.55"/><circle cx="202.46" cy="56.00" r="0.85" fill="#2a2a2a"/>
<circle cx="205.24" cy="60.00" r="1.7" fill="#b4b4b4" stroke="#8c8c8c" stroke-width="0.55"/><circle cx="205.24" cy="60.00" r="0.85" fill="#2a2a2a"/>
<circle cx="208.02" cy="60.00" r="1.7" fill="#b4b4b4" stroke="#8c8c8c" stroke-width="0.55"/><circle cx="208.02" cy="60.00" r="0.85" fill="#2a2a2a"/>
<circle cx="210.80" cy="86.00" r="1.7" fill="#b4b4b4" stroke="#8c8c8c" stroke-width="0.55"/><circle cx="210.80" cy="86.00" r="0.85" fill="#2a2a2a"/>
<circle cx="213.58" cy="72.00" r="1.7" fill="#b4b4b4" stroke="#8c8c8c" stroke-width="0.55"/><circle cx="213.58" cy="72.00" r="0.85" fill="#2a2a2a"/>
<circle cx="216.36" cy="81.00" r="1.7" fill="#b4b4b4" stroke="#8c8c8c" stroke-width="0.55"/><circle cx="216.36" cy="81.00" r="0.85" fill="#2a2a2a"/>
<circle cx="219.14" cy="84.60" r="1.7" fill="#b4b4b4" stroke="#8c8c8c" stroke-width="0.55"/><circle cx="219.14" cy="84.60" r="0.85" fill="#2a2a2a"/>
<circle cx="221.92" cy="82.60" r="1.7" fill="#b4b4b4" stroke="#8c8c8c" stroke-width="0.55"/><circle cx="221.92" cy="82.60" r="0.85" fill="#2a2a2a"/>
<circle cx="224.70" cy="85.00" r="1.7" fill="#b4b4b4" stroke="#8c8c8c" stroke-width="0.55"/><circle cx="224.70" cy="85.00" r="0.85" fill="#2a2a2a"/>
<circle cx="227.48" cy="94.60" r="1.7" fill="#b4b4b4" stroke="#8c8c8c" stroke-width="0.55"/><circle cx="227.48" cy="94.60" r="0.85" fill="#2a2a2a"/>
<circle cx="230.26" cy="90.60" r="1.7" fill="#b4b4b4" stroke="#8c8c8c" stroke-width="0.55"/><circle cx="230.26" cy="90.60" r="0.85" fill="#2a2a2a"/>
<circle cx="233.04" cy="87.40" r="1.7" fill="#b4b4b4" stroke="#8c8c8c" stroke-width="0.55"/><circle cx="233.04" cy="87.40" r="0.85" fill="#2a2a2a"/>
<circle cx="235.82" cy="86.60" r="1.7" fill="#b4b4b4" stroke="#8c8c8c" stroke-width="0.55"/><circle cx="235.82" cy="86.60" r="0.85" fill="#2a2a2a"/>
<circle cx="238.60" cy="65.40" r="1.7" fill="#b4b4b4" stroke="#8c8c8c" stroke-width="0.55"/><circle cx="238.60" cy="65.40" r="0.85" fill="#2a2a2a"/>
<circle cx="241.38" cy="82.60" r="1.7" fill="#b4b4b4" stroke="#8c8c8c" stroke-width="0.55"/><circle cx="241.38" cy="82.60" r="0.85" fill="#2a2a2a"/>
<circle cx="246.94" cy="96.00" r="1.7" fill="#b4b4b4" stroke="#8c8c8c" stroke-width="0.55"/><circle cx="246.94" cy="96.00" r="0.85" fill="#2a2a2a"/>
<circle cx="252.50" cy="86.60" r="1.7" fill="#b4b4b4" stroke="#8c8c8c" stroke-width="0.55"/><circle cx="252.50" cy="86.60" r="0.85" fill="#2a2a2a"/>
<circle cx="255.28" cy="85.40" r="1.7" fill="#b4b4b4" stroke="#8c8c8c" stroke-width="0.55"/><circle cx="255.28" cy="85.40" r="0.85" fill="#2a2a2a"/>
<circle cx="258.06" cy="96.60" r="1.7" fill="#b4b4b4" stroke="#8c8c8c" stroke-width="0.55"/><circle cx="258.06" cy="96.60" r="0.85" fill="#2a2a2a"/>
<circle cx="263.62" cy="100.40" r="1.7" fill="#b4b4b4" stroke="#8c8c8c" stroke-width="0.55"/><circle cx="263.62" cy="100.40" r="0.85" fill="#2a2a2a"/>
<circle cx="269.18" cy="79.40" r="1.7" fill="#b4b4b4" stroke="#8c8c8c" stroke-width="0.55"/><circle cx="269.18" cy="79.40" r="0.85" fill="#2a2a2a"/>
<circle cx="271.96" cy="64.00" r="1.7" fill="#b4b4b4" stroke="#8c8c8c" stroke-width="0.55"/><circle cx="271.96" cy="64.00" r="0.85" fill="#2a2a2a"/>
<circle cx="274.74" cy="95.60" r="1.7" fill="#b4b4b4" stroke="#8c8c8c" stroke-width="0.55"/><circle cx="274.74" cy="95.60" r="0.85" fill="#2a2a2a"/>
<circle cx="277.52" cy="94.40" r="1.7" fill="#b4b4b4" stroke="#8c8c8c" stroke-width="0.55"/><circle cx="277.52" cy="94.40" r="0.85" fill="#2a2a2a"/>
<circle cx="280.30" cy="83.00" r="1.7" fill="#b4b4b4" stroke="#8c8c8c" stroke-width="0.55"/><circle cx="280.30" cy="83.00" r="0.85" fill="#2a2a2a"/>
<circle cx="283.08" cy="73.00" r="1.7" fill="#b4b4b4" stroke="#8c8c8c" stroke-width="0.55"/><circle cx="283.08" cy="73.00" r="0.85" fill="#2a2a2a"/>
<circle cx="288.64" cy="64.40" r="1.7" fill="#b4b4b4" stroke="#8c8c8c" stroke-width="0.55"/><circle cx="288.64" cy="64.40" r="0.85" fill="#2a2a2a"/>
<circle cx="291.42" cy="86.00" r="1.7" fill="#b4b4b4" stroke="#8c8c8c" stroke-width="0.55"/><circle cx="291.42" cy="86.00" r="0.85" fill="#2a2a2a"/>
<circle cx="294.20" cy="77.60" r="1.7" fill="#b4b4b4" stroke="#8c8c8c" stroke-width="0.55"/><circle cx="294.20" cy="77.60" r="0.85" fill="#2a2a2a"/>
<circle cx="296.98" cy="96.40" r="1.7" fill="#b4b4b4" stroke="#8c8c8c" stroke-width="0.55"/><circle cx="296.98" cy="96.40" r="0.85" fill="#2a2a2a"/>
<circle cx="299.76" cy="98.00" r="1.7" fill="#b4b4b4" stroke="#8c8c8c" stroke-width="0.55"/><circle cx="299.76" cy="98.00" r="0.85" fill="#2a2a2a"/>
<circle cx="302.54" cy="96.00" r="1.7" fill="#b4b4b4" stroke="#8c8c8c" stroke-width="0.55"/><circle cx="302.54" cy="96.00" r="0.85" fill="#2a2a2a"/>
<circle cx="305.32" cy="83.00" r="1.7" fill="#b4b4b4" stroke="#8c8c8c" stroke-width="0.55"/><circle cx="305.32" cy="83.00" r="0.85" fill="#2a2a2a"/>
<circle cx="308.10" cy="69.00" r="1.7" fill="#b4b4b4" stroke="#8c8c8c" stroke-width="0.55"/><circle cx="308.10" cy="69.00" r="0.85" fill="#2a2a2a"/>
<circle cx="310.88" cy="80.00" r="1.7" fill="#b4b4b4" stroke="#8c8c8c" stroke-width="0.55"/><circle cx="310.88" cy="80.00" r="0.85" fill="#2a2a2a"/>
<circle cx="316.44" cy="90.00" r="1.7" fill="#b4b4b4" stroke="#8c8c8c" stroke-width="0.55"/><circle cx="316.44" cy="90.00" r="0.85" fill="#2a2a2a"/>
<circle cx="319.22" cy="89.00" r="1.7" fill="#b4b4b4" stroke="#8c8c8c" stroke-width="0.55"/><circle cx="319.22" cy="89.00" r="0.85" fill="#2a2a2a"/>
<circle cx="322.00" cy="71.60" r="1.7" fill="#b4b4b4" stroke="#8c8c8c" stroke-width="0.55"/><circle cx="322.00" cy="71.60" r="0.85" fill="#2a2a2a"/>
<circle cx="324.78" cy="93.60" r="1.7" fill="#b4b4b4" stroke="#8c8c8c" stroke-width="0.55"/><circle cx="324.78" cy="93.60" r="0.85" fill="#2a2a2a"/>
<circle cx="327.56" cy="79.40" r="1.7" fill="#b4b4b4" stroke="#8c8c8c" stroke-width="0.55"/><circle cx="327.56" cy="79.40" r="0.85" fill="#2a2a2a"/>
<circle cx="330.34" cy="81.00" r="1.7" fill="#b4b4b4" stroke="#8c8c8c" stroke-width="0.55"/><circle cx="330.34" cy="81.00" r="0.85" fill="#2a2a2a"/>
<circle cx="333.12" cy="74.40" r="1.7" fill="#b4b4b4" stroke="#8c8c8c" stroke-width="0.55"/><circle cx="333.12" cy="74.40" r="0.85" fill="#2a2a2a"/>
<circle cx="335.90" cy="58.00" r="1.7" fill="#b4b4b4" stroke="#8c8c8c" stroke-width="0.55"/><circle cx="335.90" cy="58.00" r="0.85" fill="#2a2a2a"/>
<circle cx="338.68" cy="88.60" r="1.7" fill="#b4b4b4" stroke="#8c8c8c" stroke-width="0.55"/><circle cx="338.68" cy="88.60" r="0.85" fill="#2a2a2a"/>
<circle cx="341.46" cy="79.00" r="1.7" fill="#b4b4b4" stroke="#8c8c8c" stroke-width="0.55"/><circle cx="341.46" cy="79.00" r="0.85" fill="#2a2a2a"/>
<circle cx="344.24" cy="78.00" r="1.7" fill="#b4b4b4" stroke="#8c8c8c" stroke-width="0.55"/><circle cx="344.24" cy="78.00" r="0.85" fill="#2a2a2a"/>
<circle cx="347.02" cy="90.40" r="1.7" fill="#b4b4b4" stroke="#8c8c8c" stroke-width="0.55"/><circle cx="347.02" cy="90.40" r="0.85" fill="#2a2a2a"/>
<circle cx="349.80" cy="76.00" r="1.7" fill="#b4b4b4" stroke="#8c8c8c" stroke-width="0.55"/><circle cx="349.80" cy="76.00" r="0.85" fill="#2a2a2a"/>
<circle cx="358.14" cy="85.00" r="1.7" fill="#b4b4b4" stroke="#8c8c8c" stroke-width="0.55"/><circle cx="358.14" cy="85.00" r="0.85" fill="#2a2a2a"/>
<circle cx="360.92" cy="78.60" r="1.7" fill="#b4b4b4" stroke="#8c8c8c" stroke-width="0.55"/><circle cx="360.92" cy="78.60" r="0.85" fill="#2a2a2a"/>
<circle cx="369.26" cy="89.00" r="1.7" fill="#b4b4b4" stroke="#8c8c8c" stroke-width="0.55"/><circle cx="369.26" cy="89.00" r="0.85" fill="#2a2a2a"/>
<circle cx="372.04" cy="77.40" r="1.7" fill="#b4b4b4" stroke="#8c8c8c" stroke-width="0.55"/><circle cx="372.04" cy="77.40" r="0.85" fill="#2a2a2a"/>
<circle cx="374.82" cy="95.60" r="1.7" fill="#b4b4b4" stroke="#8c8c8c" stroke-width="0.55"/><circle cx="374.82" cy="95.60" r="0.85" fill="#2a2a2a"/>
<circle cx="377.60" cy="73.60" r="1.7" fill="#b4b4b4" stroke="#8c8c8c" stroke-width="0.55"/><circle cx="377.60" cy="73.60" r="0.85" fill="#2a2a2a"/>
<circle cx="380.38" cy="82.40" r="1.7" fill="#b4b4b4" stroke="#8c8c8c" stroke-width="0.55"/><circle cx="380.38" cy="82.40" r="0.85" fill="#2a2a2a"/>
<circle cx="383.16" cy="78.00" r="1.7" fill="#b4b4b4" stroke="#8c8c8c" stroke-width="0.55"/><circle cx="383.16" cy="78.00" r="0.85" fill="#2a2a2a"/>
<circle cx="385.94" cy="90.00" r="1.7" fill="#b4b4b4" stroke="#8c8c8c" stroke-width="0.55"/><circle cx="385.94" cy="90.00" r="0.85" fill="#2a2a2a"/>
<circle cx="388.72" cy="96.60" r="1.7" fill="#b4b4b4" stroke="#8c8c8c" stroke-width="0.55"/><circle cx="388.72" cy="96.60" r="0.85" fill="#2a2a2a"/>
<circle cx="391.50" cy="88.00" r="1.7" fill="#b4b4b4" stroke="#8c8c8c" stroke-width="0.55"/><circle cx="391.50" cy="88.00" r="0.85" fill="#2a2a2a"/>
<circle cx="394.28" cy="92.00" r="1.7" fill="#b4b4b4" stroke="#8c8c8c" stroke-width="0.55"/><circle cx="394.28" cy="92.00" r="0.85" fill="#2a2a2a"/>
<circle cx="397.06" cy="70.40" r="1.7" fill="#b4b4b4" stroke="#8c8c8c" stroke-width="0.55"/><circle cx="397.06" cy="70.40" r="0.85" fill="#2a2a2a"/>
<circle cx="405.40" cy="83.40" r="1.7" fill="#b4b4b4" stroke="#8c8c8c" stroke-width="0.55"/><circle cx="405.40" cy="83.40" r="0.85" fill="#2a2a2a"/>
<circle cx="410.96" cy="84.60" r="1.7" fill="#b4b4b4" stroke="#8c8c8c" stroke-width="0.55"/><circle cx="410.96" cy="84.60" r="0.85" fill="#2a2a2a"/>
<circle cx="413.74" cy="75.00" r="1.7" fill="#b4b4b4" stroke="#8c8c8c" stroke-width="0.55"/><circle cx="413.74" cy="75.00" r="0.85" fill="#2a2a2a"/>
<circle cx="416.52" cy="77.00" r="1.7" fill="#b4b4b4" stroke="#8c8c8c" stroke-width="0.55"/><circle cx="416.52" cy="77.00" r="0.85" fill="#2a2a2a"/>
<circle cx="419.30" cy="75.00" r="1.7" fill="#b4b4b4" stroke="#8c8c8c" stroke-width="0.55"/><circle cx="419.30" cy="75.00" r="0.85" fill="#2a2a2a"/>
<circle cx="430.42" cy="77.00" r="1.7" fill="#b4b4b4" stroke="#8c8c8c" stroke-width="0.55"/><circle cx="430.42" cy="77.00" r="0.85" fill="#2a2a2a"/>
<circle cx="433.20" cy="74.40" r="1.7" fill="#b4b4b4" stroke="#8c8c8c" stroke-width="0.55"/><circle cx="433.20" cy="74.40" r="0.85" fill="#2a2a2a"/>
<circle cx="435.98" cy="83.00" r="1.7" fill="#b4b4b4" stroke="#8c8c8c" stroke-width="0.55"/><circle cx="435.98" cy="83.00" r="0.85" fill="#2a2a2a"/>
<circle cx="438.76" cy="92.60" r="1.7" fill="#b4b4b4" stroke="#8c8c8c" stroke-width="0.55"/><circle cx="438.76" cy="92.60" r="0.85" fill="#2a2a2a"/>
<circle cx="441.54" cy="78.00" r="1.7" fill="#b4b4b4" stroke="#8c8c8c" stroke-width="0.55"/><circle cx="441.54" cy="78.00" r="0.85" fill="#2a2a2a"/>
<circle cx="444.32" cy="93.00" r="1.7" fill="#b4b4b4" stroke="#8c8c8c" stroke-width="0.55"/><circle cx="444.32" cy="93.00" r="0.85" fill="#2a2a2a"/>
<circle cx="452.66" cy="80.00" r="1.7" fill="#b4b4b4" stroke="#8c8c8c" stroke-width="0.55"/><circle cx="452.66" cy="80.00" r="0.85" fill="#2a2a2a"/>
<circle cx="455.44" cy="91.00" r="1.7" fill="#b4b4b4" stroke="#8c8c8c" stroke-width="0.55"/><circle cx="455.44" cy="91.00" r="0.85" fill="#2a2a2a"/>
<circle cx="458.22" cy="96.60" r="1.7" fill="#b4b4b4" stroke="#8c8c8c" stroke-width="0.55"/><circle cx="458.22" cy="96.60" r="0.85" fill="#2a2a2a"/>
<circle cx="461.00" cy="83.00" r="1.7" fill="#b4b4b4" stroke="#8c8c8c" stroke-width="0.55"/><circle cx="461.00" cy="83.00" r="0.85" fill="#2a2a2a"/>
<circle cx="463.78" cy="82.60" r="1.7" fill="#b4b4b4" stroke="#8c8c8c" stroke-width="0.55"/><circle cx="463.78" cy="82.60" r="0.85" fill="#2a2a2a"/>
<circle cx="466.56" cy="91.00" r="1.7" fill="#b4b4b4" stroke="#8c8c8c" stroke-width="0.55"/><circle cx="466.56" cy="91.00" r="0.85" fill="#2a2a2a"/>
<circle cx="472.12" cy="64.40" r="1.7" fill="#b4b4b4" stroke="#8c8c8c" stroke-width="0.55"/><circle cx="472.12" cy="64.40" r="0.85" fill="#2a2a2a"/>
<circle cx="474.90" cy="78.60" r="1.7" fill="#b4b4b4" stroke="#8c8c8c" stroke-width="0.55"/><circle cx="474.90" cy="78.60" r="0.85" fill="#2a2a2a"/>
<circle cx="477.68" cy="49.40" r="1.7" fill="#b4b4b4" stroke="#8c8c8c" stroke-width="0.55"/><circle cx="477.68" cy="49.40" r="0.85" fill="#2a2a2a"/>
<circle cx="483.24" cy="100.00" r="1.7" fill="#b4b4b4" stroke="#8c8c8c" stroke-width="0.55"/><circle cx="483.24" cy="100.00" r="0.85" fill="#2a2a2a"/>
<circle cx="486.02" cy="90.00" r="1.7" fill="#b4b4b4" stroke="#8c8c8c" stroke-width="0.55"/><circle cx="486.02" cy="90.00" r="0.85" fill="#2a2a2a"/>
<circle cx="488.80" cy="70.60" r="1.7" fill="#b4b4b4" stroke="#8c8c8c" stroke-width="0.55"/><circle cx="488.80" cy="70.60" r="0.85" fill="#2a2a2a"/>
<circle cx="491.58" cy="70.00" r="1.7" fill="#b4b4b4" stroke="#8c8c8c" stroke-width="0.55"/><circle cx="491.58" cy="70.00" r="0.85" fill="#2a2a2a"/>
<circle cx="494.36" cy="86.00" r="1.7" fill="#b4b4b4" stroke="#8c8c8c" stroke-width="0.55"/><circle cx="494.36" cy="86.00" r="0.85" fill="#2a2a2a"/>
<circle cx="497.14" cy="86.40" r="1.7" fill="#b4b4b4" stroke="#8c8c8c" stroke-width="0.55"/><circle cx="497.14" cy="86.40" r="0.85" fill="#2a2a2a"/>
<circle cx="505.48" cy="72.40" r="1.7" fill="#b4b4b4" stroke="#8c8c8c" stroke-width="0.55"/><circle cx="505.48" cy="72.40" r="0.85" fill="#2a2a2a"/>
<circle cx="508.26" cy="68.00" r="1.7" fill="#b4b4b4" stroke="#8c8c8c" stroke-width="0.55"/><circle cx="508.26" cy="68.00" r="0.85" fill="#2a2a2a"/>
<circle cx="511.04" cy="72.60" r="1.7" fill="#b4b4b4" stroke="#8c8c8c" stroke-width="0.55"/><circle cx="511.04" cy="72.60" r="0.85" fill="#2a2a2a"/>
<circle cx="516.60" cy="98.60" r="1.7" fill="#b4b4b4" stroke="#8c8c8c" stroke-width="0.55"/><circle cx="516.60" cy="98.60" r="0.85" fill="#2a2a2a"/>
<circle cx="519.38" cy="74.00" r="1.7" fill="#b4b4b4" stroke="#8c8c8c" stroke-width="0.55"/><circle cx="519.38" cy="74.00" r="0.85" fill="#2a2a2a"/>
<circle cx="522.16" cy="90.60" r="1.7" fill="#b4b4b4" stroke="#8c8c8c" stroke-width="0.55"/><circle cx="522.16" cy="90.60" r="0.85" fill="#2a2a2a"/>
<circle cx="524.94" cy="65.00" r="1.7" fill="#b4b4b4" stroke="#8c8c8c" stroke-width="0.55"/><circle cx="524.94" cy="65.00" r="0.85" fill="#2a2a2a"/>
<circle cx="527.72" cy="64.00" r="1.7" fill="#b4b4b4" stroke="#8c8c8c" stroke-width="0.55"/><circle cx="527.72" cy="64.00" r="0.85" fill="#2a2a2a"/>
<rect x="126.10" y="62.30" width="2.6" height="2.6" fill="#0a0a0a"/>
<rect x="128.88" y="68.70" width="2.6" height="2.6" fill="#0a0a0a"/>
<rect x="131.66" y="81.30" width="2.6" height="2.6" fill="#0a0a0a"/>
<rect x="134.44" y="76.30" width="2.6" height="2.6" fill="#0a0a0a"/>
<rect x="137.22" y="79.30" width="2.6" height="2.6" fill="#0a0a0a"/>
<rect x="140.00" y="83.30" width="2.6" height="2.6" fill="#0a0a0a"/>
<rect x="142.78" y="78.10" width="2.6" height="2.6" fill="#0a0a0a"/>
<rect x="145.56" y="74.10" width="2.6" height="2.6" fill="#0a0a0a"/>
<rect x="148.34" y="60.10" width="2.6" height="2.6" fill="#0a0a0a"/>
<rect x="151.12" y="61.10" width="2.6" height="2.6" fill="#0a0a0a"/>
<rect x="153.90" y="86.90" width="2.6" height="2.6" fill="#0a0a0a"/>
<rect x="156.68" y="87.70" width="2.6" height="2.6" fill="#0a0a0a"/>
<rect x="159.46" y="90.10" width="2.6" height="2.6" fill="#0a0a0a"/>
<rect x="162.24" y="81.30" width="2.6" height="2.6" fill="#0a0a0a"/>
<rect x="165.02" y="74.10" width="2.6" height="2.6" fill="#0a0a0a"/>
<rect x="167.80" y="86.10" width="2.6" height="2.6" fill="#0a0a0a"/>
<rect x="170.58" y="89.30" width="2.6" height="2.6" fill="#0a0a0a"/>
<rect x="173.36" y="91.30" width="2.6" height="2.6" fill="#0a0a0a"/>
<rect x="176.14" y="79.30" width="2.6" height="2.6" fill="#0a0a0a"/>
<rect x="178.92" y="75.70" width="2.6" height="2.6" fill="#0a0a0a"/>
<rect x="181.70" y="79.30" width="2.6" height="2.6" fill="#0a0a0a"/>
<rect x="184.48" y="82.30" width="2.6" height="2.6" fill="#0a0a0a"/>
<rect x="187.26" y="80.10" width="2.6" height="2.6" fill="#0a0a0a"/>
<rect x="190.04" y="73.70" width="2.6" height="2.6" fill="#0a0a0a"/>
<rect x="192.82" y="72.30" width="2.6" height="2.6" fill="#0a0a0a"/>
<rect x="195.60" y="72.30" width="2.6" height="2.6" fill="#0a0a0a"/>
<rect x="198.38" y="67.70" width="2.6" height="2.6" fill="#0a0a0a"/>
<rect x="201.16" y="64.70" width="2.6" height="2.6" fill="#0a0a0a"/>
<rect x="203.94" y="68.10" width="2.6" height="2.6" fill="#0a0a0a"/>
<rect x="206.72" y="69.30" width="2.6" height="2.6" fill="#0a0a0a"/>
<rect x="209.50" y="80.10" width="2.6" height="2.6" fill="#0a0a0a"/>
<rect x="212.28" y="75.30" width="2.6" height="2.6" fill="#0a0a0a"/>
<rect x="215.06" y="77.30" width="2.6" height="2.6" fill="#0a0a0a"/>
<rect x="217.84" y="79.30" width="2.6" height="2.6" fill="#0a0a0a"/>
<rect x="220.62" y="77.70" width="2.6" height="2.6" fill="#0a0a0a"/>
<rect x="223.40" y="82.10" width="2.6" height="2.6" fill="#0a0a0a"/>
<rect x="226.18" y="91.10" width="2.6" height="2.6" fill="#0a0a0a"/>
<rect x="228.96" y="88.10" width="2.6" height="2.6" fill="#0a0a0a"/>
<rect x="231.74" y="85.30" width="2.6" height="2.6" fill="#0a0a0a"/>
<rect x="234.52" y="80.70" width="2.6" height="2.6" fill="#0a0a0a"/>
<rect x="237.30" y="71.70" width="2.6" height="2.6" fill="#0a0a0a"/>
<rect x="240.08" y="81.30" width="2.6" height="2.6" fill="#0a0a0a"/>
<rect x="242.86" y="87.10" width="2.6" height="2.6" fill="#0a0a0a"/>
<rect x="245.64" y="89.30" width="2.6" height="2.6" fill="#0a0a0a"/>
<rect x="248.42" y="81.10" width="2.6" height="2.6" fill="#0a0a0a"/>
<rect x="251.20" y="82.70" width="2.6" height="2.6" fill="#0a0a0a"/>
<rect x="253.98" y="83.70" width="2.6" height="2.6" fill="#0a0a0a"/>
<rect x="256.76" y="88.10" width="2.6" height="2.6" fill="#0a0a0a"/>
<rect x="259.54" y="83.30" width="2.6" height="2.6" fill="#0a0a0a"/>
<rect x="262.32" y="88.10" width="2.6" height="2.6" fill="#0a0a0a"/>
<rect x="265.10" y="75.10" width="2.6" height="2.6" fill="#0a0a0a"/>
<rect x="267.88" y="76.30" width="2.6" height="2.6" fill="#0a0a0a"/>
<rect x="270.66" y="70.10" width="2.6" height="2.6" fill="#0a0a0a"/>
<rect x="273.44" y="85.10" width="2.6" height="2.6" fill="#0a0a0a"/>
<rect x="276.22" y="86.10" width="2.6" height="2.6" fill="#0a0a0a"/>
<rect x="279.00" y="80.30" width="2.6" height="2.6" fill="#0a0a0a"/>
<rect x="281.78" y="75.10" width="2.6" height="2.6" fill="#0a0a0a"/>
<rect x="284.56" y="74.70" width="2.6" height="2.6" fill="#0a0a0a"/>
<rect x="287.34" y="71.70" width="2.6" height="2.6" fill="#0a0a0a"/>
<rect x="290.12" y="81.30" width="2.6" height="2.6" fill="#0a0a0a"/>
<rect x="292.90" y="80.70" width="2.6" height="2.6" fill="#0a0a0a"/>
<rect x="295.68" y="90.30" width="2.6" height="2.6" fill="#0a0a0a"/>
<rect x="298.46" y="92.30" width="2.6" height="2.6" fill="#0a0a0a"/>
<rect x="301.24" y="90.30" width="2.6" height="2.6" fill="#0a0a0a"/>
<rect x="304.02" y="81.70" width="2.6" height="2.6" fill="#0a0a0a"/>
<rect x="306.80" y="73.10" width="2.6" height="2.6" fill="#0a0a0a"/>
<rect x="309.58" y="78.10" width="2.6" height="2.6" fill="#0a0a0a"/>
<rect x="312.36" y="82.30" width="2.6" height="2.6" fill="#0a0a0a"/>
<rect x="315.14" y="87.70" width="2.6" height="2.6" fill="#0a0a0a"/>
<rect x="317.92" y="86.70" width="2.6" height="2.6" fill="#0a0a0a"/>
<rect x="320.70" y="78.10" width="2.6" height="2.6" fill="#0a0a0a"/>
<rect x="323.48" y="85.70" width="2.6" height="2.6" fill="#0a0a0a"/>
<rect x="326.26" y="80.10" width="2.6" height="2.6" fill="#0a0a0a"/>
<rect x="329.04" y="80.10" width="2.6" height="2.6" fill="#0a0a0a"/>
<rect x="331.82" y="77.30" width="2.6" height="2.6" fill="#0a0a0a"/>
<rect x="334.60" y="68.10" width="2.6" height="2.6" fill="#0a0a0a"/>
<rect x="337.38" y="81.30" width="2.6" height="2.6" fill="#0a0a0a"/>
<rect x="340.16" y="78.10" width="2.6" height="2.6" fill="#0a0a0a"/>
<rect x="342.94" y="77.30" width="2.6" height="2.6" fill="#0a0a0a"/>
<rect x="345.72" y="85.10" width="2.6" height="2.6" fill="#0a0a0a"/>
<rect x="348.50" y="78.10" width="2.6" height="2.6" fill="#0a0a0a"/>
<rect x="351.28" y="78.70" width="2.6" height="2.6" fill="#0a0a0a"/>
<rect x="354.06" y="79.10" width="2.6" height="2.6" fill="#0a0a0a"/>
<rect x="356.84" y="80.10" width="2.6" height="2.6" fill="#0a0a0a"/>
<rect x="359.62" y="78.70" width="2.6" height="2.6" fill="#0a0a0a"/>
<rect x="362.40" y="81.70" width="2.6" height="2.6" fill="#0a0a0a"/>
<rect x="365.18" y="84.70" width="2.6" height="2.6" fill="#0a0a0a"/>
<rect x="367.96" y="86.10" width="2.6" height="2.6" fill="#0a0a0a"/>
<rect x="370.74" y="82.10" width="2.6" height="2.6" fill="#0a0a0a"/>
<rect x="373.52" y="88.10" width="2.6" height="2.6" fill="#0a0a0a"/>
<rect x="376.30" y="77.30" width="2.6" height="2.6" fill="#0a0a0a"/>
<rect x="379.08" y="79.30" width="2.6" height="2.6" fill="#0a0a0a"/>
<rect x="381.86" y="80.10" width="2.6" height="2.6" fill="#0a0a0a"/>
<rect x="384.64" y="90.70" width="2.6" height="2.6" fill="#0a0a0a"/>
<rect x="387.42" y="91.70" width="2.6" height="2.6" fill="#0a0a0a"/>
<rect x="390.20" y="88.10" width="2.6" height="2.6" fill="#0a0a0a"/>
<rect x="392.98" y="86.10" width="2.6" height="2.6" fill="#0a0a0a"/>
<rect x="395.76" y="75.70" width="2.6" height="2.6" fill="#0a0a0a"/>
<rect x="398.54" y="74.70" width="2.6" height="2.6" fill="#0a0a0a"/>
<rect x="401.32" y="75.70" width="2.6" height="2.6" fill="#0a0a0a"/>
<rect x="404.10" y="76.70" width="2.6" height="2.6" fill="#0a0a0a"/>
<rect x="406.88" y="75.10" width="2.6" height="2.6" fill="#0a0a0a"/>
<rect x="409.66" y="81.70" width="2.6" height="2.6" fill="#0a0a0a"/>
<rect x="412.44" y="78.10" width="2.6" height="2.6" fill="#0a0a0a"/>
<rect x="415.22" y="76.10" width="2.6" height="2.6" fill="#0a0a0a"/>
<rect x="418.00" y="75.30" width="2.6" height="2.6" fill="#0a0a0a"/>
<rect x="420.78" y="78.10" width="2.6" height="2.6" fill="#0a0a0a"/>
<rect x="423.56" y="81.10" width="2.6" height="2.6" fill="#0a0a0a"/>
<rect x="426.34" y="80.10" width="2.6" height="2.6" fill="#0a0a0a"/>
<rect x="429.12" y="76.70" width="2.6" height="2.6" fill="#0a0a0a"/>
<rect x="431.90" y="75.70" width="2.6" height="2.6" fill="#0a0a0a"/>
<rect x="434.68" y="82.30" width="2.6" height="2.6" fill="#0a0a0a"/>
<rect x="437.46" y="85.10" width="2.6" height="2.6" fill="#0a0a0a"/>
<rect x="440.24" y="79.70" width="2.6" height="2.6" fill="#0a0a0a"/>
<rect x="443.02" y="87.30" width="2.6" height="2.6" fill="#0a0a0a"/>
<rect x="445.80" y="83.70" width="2.6" height="2.6" fill="#0a0a0a"/>
<rect x="448.58" y="81.70" width="2.6" height="2.6" fill="#0a0a0a"/>
<rect x="451.36" y="79.30" width="2.6" height="2.6" fill="#0a0a0a"/>
<rect x="454.14" y="84.70" width="2.6" height="2.6" fill="#0a0a0a"/>
<rect x="456.92" y="88.70" width="2.6" height="2.6" fill="#0a0a0a"/>
<rect x="459.70" y="82.30" width="2.6" height="2.6" fill="#0a0a0a"/>
<rect x="462.48" y="81.70" width="2.6" height="2.6" fill="#0a0a0a"/>
<rect x="465.26" y="84.70" width="2.6" height="2.6" fill="#0a0a0a"/>
<rect x="468.04" y="76.70" width="2.6" height="2.6" fill="#0a0a0a"/>
<rect x="470.82" y="70.10" width="2.6" height="2.6" fill="#0a0a0a"/>
<rect x="473.60" y="75.70" width="2.6" height="2.6" fill="#0a0a0a"/>
<rect x="476.38" y="63.10" width="2.6" height="2.6" fill="#0a0a0a"/>
<rect x="479.16" y="76.70" width="2.6" height="2.6" fill="#0a0a0a"/>
<rect x="481.94" y="90.10" width="2.6" height="2.6" fill="#0a0a0a"/>
<rect x="484.72" y="85.10" width="2.6" height="2.6" fill="#0a0a0a"/>
<rect x="487.50" y="73.70" width="2.6" height="2.6" fill="#0a0a0a"/>
<rect x="490.28" y="73.10" width="2.6" height="2.6" fill="#0a0a0a"/>
<rect x="493.06" y="81.70" width="2.6" height="2.6" fill="#0a0a0a"/>
<rect x="495.84" y="82.70" width="2.6" height="2.6" fill="#0a0a0a"/>
<rect x="498.62" y="79.30" width="2.6" height="2.6" fill="#0a0a0a"/>
<rect x="501.40" y="76.10" width="2.6" height="2.6" fill="#0a0a0a"/>
<rect x="504.18" y="73.30" width="2.6" height="2.6" fill="#0a0a0a"/>
<rect x="506.96" y="71.70" width="2.6" height="2.6" fill="#0a0a0a"/>
<rect x="509.74" y="74.70" width="2.6" height="2.6" fill="#0a0a0a"/>
<rect x="512.52" y="81.70" width="2.6" height="2.6" fill="#0a0a0a"/>
<rect x="515.30" y="89.10" width="2.6" height="2.6" fill="#0a0a0a"/>
<rect x="518.08" y="79.10" width="2.6" height="2.6" fill="#0a0a0a"/>
<rect x="520.86" y="82.70" width="2.6" height="2.6" fill="#0a0a0a"/>
<rect x="523.64" y="71.30" width="2.6" height="2.6" fill="#0a0a0a"/>
<rect x="526.42" y="70.70" width="2.6" height="2.6" fill="#0a0a0a"/>
<rect x="529.20" y="78.10" width="2.6" height="2.6" fill="#0a0a0a"/>
<rect x="531.98" y="79.70" width="2.6" height="2.6" fill="#0a0a0a"/>
<rect x="534.76" y="80.70" width="2.6" height="2.6" fill="#0a0a0a"/>
<rect x="537.54" y="80.30" width="2.6" height="2.6" fill="#0a0a0a"/>
<rect x="540.32" y="76.70" width="2.6" height="2.6" fill="#0a0a0a"/>
<circle cx="136.6" cy="114.4" r="6.5" fill="#fff" stroke="#1a1a1a" stroke-width="0.9"/>
<text class="sans" x="136.6" y="116.60" font-size="5.9" font-weight="bold" text-anchor="middle" fill="#222">A</text>
<circle cx="204.0" cy="114.4" r="6.5" fill="#fff" stroke="#1a1a1a" stroke-width="0.9"/>
<text class="sans" x="204.0" y="116.60" font-size="5.9" font-weight="bold" text-anchor="middle" fill="#222">B</text>
<circle cx="271.5" cy="114.4" r="6.5" fill="#fff" stroke="#1a1a1a" stroke-width="0.9"/>
<text class="sans" x="271.5" y="116.60" font-size="5.9" font-weight="bold" text-anchor="middle" fill="#222">C</text>
<circle cx="339.0" cy="114.4" r="6.5" fill="#fff" stroke="#1a1a1a" stroke-width="0.9"/>
<text class="sans" x="339.0" y="116.60" font-size="5.9" font-weight="bold" text-anchor="middle" fill="#222">D</text>
<circle cx="406.6" cy="114.4" r="6.5" fill="#fff" stroke="#1a1a1a" stroke-width="0.9"/>
<text class="sans" x="406.6" y="116.60" font-size="5.9" font-weight="bold" text-anchor="middle" fill="#222">E</text>
<circle cx="473.9" cy="114.4" r="6.5" fill="#fff" stroke="#1a1a1a" stroke-width="0.9"/>
<text class="sans" x="473.9" y="116.60" font-size="5.9" font-weight="bold" text-anchor="middle" fill="#222">F</text>
<circle cx="541.2" cy="114.4" r="6.5" fill="#fff" stroke="#1a1a1a" stroke-width="0.9"/>
<text class="sans" x="541.2" y="116.60" font-size="5.9" font-weight="bold" text-anchor="middle" fill="#222">G</text>
</g>
<g id="plot2">
<line x1="126.0" y1="139.60" x2="543.6" y2="139.60" stroke="#e8e8e8" stroke-width="0.7"/>
<text class="sans" x="122" y="141.20" font-size="4.9" text-anchor="end" fill="#6e6e6e">1600</text>
<line x1="126.0" y1="149.65" x2="543.6" y2="149.65" stroke="#e8e8e8" stroke-width="0.7"/>
<text class="sans" x="122" y="151.25" font-size="4.9" text-anchor="end" fill="#6e6e6e">1400</text>
<line x1="126.0" y1="159.70" x2="543.6" y2="159.70" stroke="#e8e8e8" stroke-width="0.7"/>
<text class="sans" x="122" y="161.30" font-size="4.9" text-anchor="end" fill="#6e6e6e">1200</text>
<line x1="126.0" y1="169.75" x2="543.6" y2="169.75" stroke="#e8e8e8" stroke-width="0.7"/>
<text class="sans" x="122" y="171.35" font-size="4.9" text-anchor="end" fill="#6e6e6e">1000</text>
<line x1="126.0" y1="179.80" x2="543.6" y2="179.80" stroke="#e8e8e8" stroke-width="0.7"/>
<text class="sans" x="122" y="181.40" font-size="4.9" text-anchor="end" fill="#6e6e6e">800</text>
<line x1="126.0" y1="189.85" x2="543.6" y2="189.85" stroke="#e8e8e8" stroke-width="0.7"/>
<text class="sans" x="122" y="191.45" font-size="4.9" text-anchor="end" fill="#6e6e6e">600</text>
<line x1="126.0" y1="199.90" x2="543.6" y2="199.90" stroke="#e8e8e8" stroke-width="0.7"/>
<text class="sans" x="122" y="201.50" font-size="4.9" text-anchor="end" fill="#6e6e6e">400</text>
<line x1="126.0" y1="209.95" x2="543.6" y2="209.95" stroke="#e8e8e8" stroke-width="0.7"/>
<text class="sans" x="122" y="211.55" font-size="4.9" text-anchor="end" fill="#6e6e6e">200</text>
<line x1="126.0" y1="220.00" x2="543.6" y2="220.00" stroke="#e8e8e8" stroke-width="0.7"/>
<text class="sans" x="122" y="221.60" font-size="4.9" text-anchor="end" fill="#6e6e6e">0</text>
<text class="serif" x="321.6" y="130.50" font-size="8.8" text-anchor="middle" fill="#000" textLength="19.8" lengthAdjust="spacingAndGlyphs">Plot 2</text>
<text class="serif" transform="translate(107.5,179.30) rotate(-90)" font-size="7.1" text-anchor="middle" fill="#111" stroke="#111" stroke-width="0.12" textLength="63" lengthAdjust="spacingAndGlyphs">Fresh Weight - FW (g)</text>
<circle cx="127.40" cy="165.60" r="1.7" fill="#b4b4b4" stroke="#8c8c8c" stroke-width="0.55"/><circle cx="127.40" cy="165.60" r="0.85" fill="#2a2a2a"/>
<circle cx="130.18" cy="192.00" r="1.7" fill="#b4b4b4" stroke="#8c8c8c" stroke-width="0.55"/><circle cx="130.18" cy="192.00" r="0.85" fill="#2a2a2a"/>
<circle cx="132.96" cy="208.00" r="1.7" fill="#b4b4b4" stroke="#8c8c8c" stroke-width="0.55"/><circle cx="132.96" cy="208.00" r="0.85" fill="#2a2a2a"/>
<circle cx="135.74" cy="183.00" r="1.7" fill="#b4b4b4" stroke="#8c8c8c" stroke-width="0.55"/><circle cx="135.74" cy="183.00" r="0.85" fill="#2a2a2a"/>
<circle cx="141.30" cy="202.60" r="1.7" fill="#b4b4b4" stroke="#8c8c8c" stroke-width="0.55"/><circle cx="141.30" cy="202.60" r="0.85" fill="#2a2a2a"/>
<circle cx="144.08" cy="203.60" r="1.7" fill="#b4b4b4" stroke="#8c8c8c" stroke-width="0.55"/><circle cx="144.08" cy="203.60" r="0.85" fill="#2a2a2a"/>
<circle cx="146.86" cy="180.40" r="1.7" fill="#b4b4b4" stroke="#8c8c8c" stroke-width="0.55"/><circle cx="146.86" cy="180.40" r="0.85" fill="#2a2a2a"/>
<circle cx="149.64" cy="194.60" r="1.7" fill="#b4b4b4" stroke="#8c8c8c" stroke-width="0.55"/><circle cx="149.64" cy="194.60" r="0.85" fill="#2a2a2a"/>
<circle cx="152.42" cy="186.00" r="1.7" fill="#b4b4b4" stroke="#8c8c8c" stroke-width="0.55"/><circle cx="152.42" cy="186.00" r="0.85" fill="#2a2a2a"/>
<circle cx="155.20" cy="175.60" r="1.7" fill="#b4b4b4" stroke="#8c8c8c" stroke-width="0.55"/><circle cx="155.20" cy="175.60" r="0.85" fill="#2a2a2a"/>
<circle cx="157.98" cy="192.60" r="1.7" fill="#b4b4b4" stroke="#8c8c8c" stroke-width="0.55"/><circle cx="157.98" cy="192.60" r="0.85" fill="#2a2a2a"/>
<circle cx="160.76" cy="198.00" r="1.7" fill="#b4b4b4" stroke="#8c8c8c" stroke-width="0.55"/><circle cx="160.76" cy="198.00" r="0.85" fill="#2a2a2a"/>
<circle cx="163.54" cy="181.40" r="1.7" fill="#b4b4b4" stroke="#8c8c8c" stroke-width="0.55"/><circle cx="163.54" cy="181.40" r="0.85" fill="#2a2a2a"/>
<circle cx="166.32" cy="187.40" r="1.7" fill="#b4b4b4" stroke="#8c8c8c" stroke-width="0.55"/><circle cx="166.32" cy="187.40" r="0.85" fill="#2a2a2a"/>
<circle cx="169.10" cy="181.00" r="1.7" fill="#b4b4b4" stroke="#8c8c8c" stroke-width="0.55"/><circle cx="169.10" cy="181.00" r="0.85" fill="#2a2a2a"/>
<circle cx="174.66" cy="203.00" r="1.7" fill="#b4b4b4" stroke="#8c8c8c" stroke-width="0.55"/><circle cx="174.66" cy="203.00" r="0.85" fill="#2a2a2a"/>
<circle cx="180.22" cy="183.40" r="1.7" fill="#b4b4b4" stroke="#8c8c8c" stroke-width="0.55"/><circle cx="180.22" cy="183.40" r="0.85" fill="#2a2a2a"/>
<circle cx="183.00" cy="174.40" r="1.7" fill="#b4b4b4" stroke="#8c8c8c" stroke-width="0.55"/><circle cx="183.00" cy="174.40" r="0.85" fill="#2a2a2a"/>
<circle cx="196.90" cy="174.00" r="1.7" fill="#b4b4b4" stroke="#8c8c8c" stroke-width="0.55"/><circle cx="196.90" cy="174.00" r="0.85" fill="#2a2a2a"/>
<circle cx="199.68" cy="173.00" r="1.7" fill="#b4b4b4" stroke="#8c8c8c" stroke-width="0.55"/><circle cx="199.68" cy="173.00" r="0.85" fill="#2a2a2a"/>
<circle cx="202.46" cy="197.00" r="1.7" fill="#b4b4b4" stroke="#8c8c8c" stroke-width="0.55"/><circle cx="202.46" cy="197.00" r="0.85" fill="#2a2a2a"/>
<circle cx="205.24" cy="163.00" r="1.7" fill="#b4b4b4" stroke="#8c8c8c" stroke-width="0.55"/><circle cx="205.24" cy="163.00" r="0.85" fill="#2a2a2a"/>
<circle cx="210.80" cy="179.00" r="1.7" fill="#b4b4b4" stroke="#8c8c8c" stroke-width="0.55"/><circle cx="210.80" cy="179.00" r="0.85" fill="#2a2a2a"/>
<circle cx="216.36" cy="204.60" r="1.7" fill="#b4b4b4" stroke="#8c8c8c" stroke-width="0.55"/><circle cx="216.36" cy="204.60" r="0.85" fill="#2a2a2a"/>
<circle cx="224.70" cy="187.00" r="1.7" fill="#b4b4b4" stroke="#8c8c8c" stroke-width="0.55"/><circle cx="224.70" cy="187.00" r="0.85" fill="#2a2a2a"/>
<circle cx="227.48" cy="200.00" r="1.7" fill="#b4b4b4" stroke="#8c8c8c" stroke-width="0.55"/><circle cx="227.48" cy="200.00" r="0.85" fill="#2a2a2a"/>
<circle cx="230.26" cy="183.40" r="1.7" fill="#b4b4b4" stroke="#8c8c8c" stroke-width="0.55"/><circle cx="230.26" cy="183.40" r="0.85" fill="#2a2a2a"/>
<circle cx="233.04" cy="193.40" r="1.7" fill="#b4b4b4" stroke="#8c8c8c" stroke-width="0.55"/><circle cx="233.04" cy="193.40" r="0.85" fill="#2a2a2a"/>
<circle cx="235.82" cy="187.40" r="1.7" fill="#b4b4b4" stroke="#8c8c8c" stroke-width="0.55"/><circle cx="235.82" cy="187.40" r="0.85" fill="#2a2a2a"/>
<circle cx="241.38" cy="203.60" r="1.7" fill="#b4b4b4" stroke="#8c8c8c" stroke-width="0.55"/><circle cx="241.38" cy="203.60" r="0.85" fill="#2a2a2a"/>
<circle cx="244.16" cy="184.60" r="1.7" fill="#b4b4b4" stroke="#8c8c8c" stroke-width="0.55"/><circle cx="244.16" cy="184.60" r="0.85" fill="#2a2a2a"/>
<circle cx="246.94" cy="187.40" r="1.7" fill="#b4b4b4" stroke="#8c8c8c" stroke-width="0.55"/><circle cx="246.94" cy="187.40" r="0.85" fill="#2a2a2a"/>
<circle cx="252.50" cy="180.40" r="1.7" fill="#b4b4b4" stroke="#8c8c8c" stroke-width="0.55"/><circle cx="252.50" cy="180.40" r="0.85" fill="#2a2a2a"/>
<circle cx="255.28" cy="184.40" r="1.7" fill="#b4b4b4" stroke="#8c8c8c" stroke-width="0.55"/><circle cx="255.28" cy="184.40" r="0.85" fill="#2a2a2a"/>
<circle cx="258.06" cy="203.60" r="1.7" fill="#b4b4b4" stroke="#8c8c8c" stroke-width="0.55"/><circle cx="258.06" cy="203.60" r="0.85" fill="#2a2a2a"/>
<circle cx="266.40" cy="178.40" r="1.7" fill="#b4b4b4" stroke="#8c8c8c" stroke-width="0.55"/><circle cx="266.40" cy="178.40" r="0.85" fill="#2a2a2a"/>
<circle cx="269.18" cy="190.60" r="1.7" fill="#b4b4b4" stroke="#8c8c8c" stroke-width="0.55"/><circle cx="269.18" cy="190.60" r="0.85" fill="#2a2a2a"/>
<circle cx="271.96" cy="210.00" r="1.7" fill="#b4b4b4" stroke="#8c8c8c" stroke-width="0.55"/><circle cx="271.96" cy="210.00" r="0.85" fill="#2a2a2a"/>
<circle cx="274.74" cy="178.40" r="1.7" fill="#b4b4b4" stroke="#8c8c8c" stroke-width="0.55"/><circle cx="274.74" cy="178.40" r="0.85" fill="#2a2a2a"/>
<circle cx="277.52" cy="193.00" r="1.7" fill="#b4b4b4" stroke="#8c8c8c" stroke-width="0.55"/><circle cx="277.52" cy="193.00" r="0.85" fill="#2a2a2a"/>
<circle cx="283.08" cy="200.40" r="1.7" fill="#b4b4b4" stroke="#8c8c8c" stroke-width="0.55"/><circle cx="283.08" cy="200.40" r="0.85" fill="#2a2a2a"/>
<circle cx="294.20" cy="204.00" r="1.7" fill="#b4b4b4" stroke="#8c8c8c" stroke-width="0.55"/><circle cx="294.20" cy="204.00" r="0.85" fill="#2a2a2a"/>
<circle cx="296.98" cy="180.60" r="1.7" fill="#b4b4b4" stroke="#8c8c8c" stroke-width="0.55"/><circle cx="296.98" cy="180.60" r="0.85" fill="#2a2a2a"/>
<circle cx="302.54" cy="194.00" r="1.7" fill="#b4b4b4" stroke="#8c8c8c" stroke-width="0.55"/><circle cx="302.54" cy="194.00" r="0.85" fill="#2a2a2a"/>
<circle cx="305.32" cy="184.40" r="1.7" fill="#b4b4b4" stroke="#8c8c8c" stroke-width="0.55"/><circle cx="305.32" cy="184.40" r="0.85" fill="#2a2a2a"/>
<circle cx="308.10" cy="200.40" r="1.7" fill="#b4b4b4" stroke="#8c8c8c" stroke-width="0.55"/><circle cx="308.10" cy="200.40" r="0.85" fill="#2a2a2a"/>
<circle cx="310.88" cy="188.00" r="1.7" fill="#b4b4b4" stroke="#8c8c8c" stroke-width="0.55"/><circle cx="310.88" cy="188.00" r="0.85" fill="#2a2a2a"/>
<circle cx="313.66" cy="214.00" r="1.7" fill="#b4b4b4" stroke="#8c8c8c" stroke-width="0.55"/><circle cx="313.66" cy="214.00" r="0.85" fill="#2a2a2a"/>
<circle cx="316.44" cy="164.40" r="1.7" fill="#b4b4b4" stroke="#8c8c8c" stroke-width="0.55"/><circle cx="316.44" cy="164.40" r="0.85" fill="#2a2a2a"/>
<circle cx="319.22" cy="197.00" r="1.7" fill="#b4b4b4" stroke="#8c8c8c" stroke-width="0.55"/><circle cx="319.22" cy="197.00" r="0.85" fill="#2a2a2a"/>
<circle cx="335.90" cy="193.00" r="1.7" fill="#b4b4b4" stroke="#8c8c8c" stroke-width="0.55"/><circle cx="335.90" cy="193.00" r="0.85" fill="#2a2a2a"/>
<circle cx="341.46" cy="208.00" r="1.7" fill="#b4b4b4" stroke="#8c8c8c" stroke-width="0.55"/><circle cx="341.46" cy="208.00" r="0.85" fill="#2a2a2a"/>
<circle cx="344.24" cy="187.40" r="1.7" fill="#b4b4b4" stroke="#8c8c8c" stroke-width="0.55"/><circle cx="344.24" cy="187.40" r="0.85" fill="#2a2a2a"/>
<circle cx="347.02" cy="187.40" r="1.7" fill="#b4b4b4" stroke="#8c8c8c" stroke-width="0.55"/><circle cx="347.02" cy="187.40" r="0.85" fill="#2a2a2a"/>
<circle cx="352.58" cy="207.00" r="1.7" fill="#b4b4b4" stroke="#8c8c8c" stroke-width="0.55"/><circle cx="352.58" cy="207.00" r="0.85" fill="#2a2a2a"/>
<circle cx="355.36" cy="199.00" r="1.7" fill="#b4b4b4" stroke="#8c8c8c" stroke-width="0.55"/><circle cx="355.36" cy="199.00" r="0.85" fill="#2a2a2a"/>
<circle cx="358.14" cy="195.40" r="1.7" fill="#b4b4b4" stroke="#8c8c8c" stroke-width="0.55"/><circle cx="358.14" cy="195.40" r="0.85" fill="#2a2a2a"/>
<circle cx="363.70" cy="188.40" r="1.7" fill="#b4b4b4" stroke="#8c8c8c" stroke-width="0.55"/><circle cx="363.70" cy="188.40" r="0.85" fill="#2a2a2a"/>
<circle cx="366.48" cy="201.60" r="1.7" fill="#b4b4b4" stroke="#8c8c8c" stroke-width="0.55"/><circle cx="366.48" cy="201.60" r="0.85" fill="#2a2a2a"/>
<circle cx="372.04" cy="201.60" r="1.7" fill="#b4b4b4" stroke="#8c8c8c" stroke-width="0.55"/><circle cx="372.04" cy="201.60" r="0.85" fill="#2a2a2a"/>
<circle cx="374.82" cy="201.60" r="1.7" fill="#b4b4b4" stroke="#8c8c8c" stroke-width="0.55"/><circle cx="374.82" cy="201.60" r="0.85" fill="#2a2a2a"/>
<circle cx="377.60" cy="191.00" r="1.7" fill="#b4b4b4" stroke="#8c8c8c" stroke-width="0.55"/><circle cx="377.60" cy="191.00" r="0.85" fill="#2a2a2a"/>
<circle cx="380.38" cy="212.40" r="1.7" fill="#b4b4b4" stroke="#8c8c8c" stroke-width="0.55"/><circle cx="380.38" cy="212.40" r="0.85" fill="#2a2a2a"/>
<circle cx="383.16" cy="211.60" r="1.7" fill="#b4b4b4" stroke="#8c8c8c" stroke-width="0.55"/><circle cx="383.16" cy="211.60" r="0.85" fill="#2a2a2a"/>
<circle cx="385.94" cy="197.40" r="1.7" fill="#b4b4b4" stroke="#8c8c8c" stroke-width="0.55"/><circle cx="385.94" cy="197.40" r="0.85" fill="#2a2a2a"/>
<circle cx="388.72" cy="190.00" r="1.7" fill="#b4b4b4" stroke="#8c8c8c" stroke-width="0.55"/><circle cx="388.72" cy="190.00" r="0.85" fill="#2a2a2a"/>
<circle cx="391.50" cy="201.00" r="1.7" fill="#b4b4b4" stroke="#8c8c8c" stroke-width="0.55"/><circle cx="391.50" cy="201.00" r="0.85" fill="#2a2a2a"/>
<circle cx="405.40" cy="166.00" r="1.7" fill="#b4b4b4" stroke="#8c8c8c" stroke-width="0.55"/><circle cx="405.40" cy="166.00" r="0.85" fill="#2a2a2a"/>
<circle cx="408.18" cy="208.40" r="1.7" fill="#b4b4b4" stroke="#8c8c8c" stroke-width="0.55"/><circle cx="408.18" cy="208.40" r="0.85" fill="#2a2a2a"/>
<circle cx="410.96" cy="177.60" r="1.7" fill="#b4b4b4" stroke="#8c8c8c" stroke-width="0.55"/><circle cx="410.96" cy="177.60" r="0.85" fill="#2a2a2a"/>
<circle cx="416.52" cy="196.60" r="1.7" fill="#b4b4b4" stroke="#8c8c8c" stroke-width="0.55"/><circle cx="416.52" cy="196.60" r="0.85" fill="#2a2a2a"/>
<circle cx="419.30" cy="169.00" r="1.7" fill="#b4b4b4" stroke="#8c8c8c" stroke-width="0.55"/><circle cx="419.30" cy="169.00" r="0.85" fill="#2a2a2a"/>
<circle cx="422.08" cy="179.00" r="1.7" fill="#b4b4b4" stroke="#8c8c8c" stroke-width="0.55"/><circle cx="422.08" cy="179.00" r="0.85" fill="#2a2a2a"/>
<circle cx="430.42" cy="182.00" r="1.7" fill="#b4b4b4" stroke="#8c8c8c" stroke-width="0.55"/><circle cx="430.42" cy="182.00" r="0.85" fill="#2a2a2a"/>
<circle cx="433.20" cy="211.00" r="1.7" fill="#b4b4b4" stroke="#8c8c8c" stroke-width="0.55"/><circle cx="433.20" cy="211.00" r="0.85" fill="#2a2a2a"/>
<circle cx="435.98" cy="182.40" r="1.7" fill="#b4b4b4" stroke="#8c8c8c" stroke-width="0.55"/><circle cx="435.98" cy="182.40" r="0.85" fill="#2a2a2a"/>
<circle cx="441.54" cy="191.40" r="1.7" fill="#b4b4b4" stroke="#8c8c8c" stroke-width="0.55"/><circle cx="441.54" cy="191.40" r="0.85" fill="#2a2a2a"/>
<circle cx="444.32" cy="183.60" r="1.7" fill="#b4b4b4" stroke="#8c8c8c" stroke-width="0.55"/><circle cx="444.32" cy="183.60" r="0.85" fill="#2a2a2a"/>
<circle cx="447.10" cy="195.00" r="1.7" fill="#b4b4b4" stroke="#8c8c8c" stroke-width="0.55"/><circle cx="447.10" cy="195.00" r="0.85" fill="#2a2a2a"/>
<circle cx="452.66" cy="197.00" r="1.7" fill="#b4b4b4" stroke="#8c8c8c" stroke-width="0.55"/><circle cx="452.66" cy="197.00" r="0.85" fill="#2a2a2a"/>
<circle cx="458.22" cy="201.00" r="1.7" fill="#b4b4b4" stroke="#8c8c8c" stroke-width="0.55"/><circle cx="458.22" cy="201.00" r="0.85" fill="#2a2a2a"/>
<circle cx="461.00" cy="192.60" r="1.7" fill="#b4b4b4" stroke="#8c8c8c" stroke-width="0.55"/><circle cx="461.00" cy="192.60" r="0.85" fill="#2a2a2a"/>
<circle cx="463.78" cy="202.00" r="1.7" fill="#b4b4b4" stroke="#8c8c8c" stroke-width="0.55"/><circle cx="463.78" cy="202.00" r="0.85" fill="#2a2a2a"/>
<circle cx="466.56" cy="172.00" r="1.7" fill="#b4b4b4" stroke="#8c8c8c" stroke-width="0.55"/><circle cx="466.56" cy="172.00" r="0.85" fill="#2a2a2a"/>
<circle cx="469.34" cy="177.60" r="1.7" fill="#b4b4b4" stroke="#8c8c8c" stroke-width="0.55"/><circle cx="469.34" cy="177.60" r="0.85" fill="#2a2a2a"/>
<circle cx="474.90" cy="207.00" r="1.7" fill="#b4b4b4" stroke="#8c8c8c" stroke-width="0.55"/><circle cx="474.90" cy="207.00" r="0.85" fill="#2a2a2a"/>
<circle cx="477.68" cy="190.60" r="1.7" fill="#b4b4b4" stroke="#8c8c8c" stroke-width="0.55"/><circle cx="477.68" cy="190.60" r="0.85" fill="#2a2a2a"/>
<circle cx="480.46" cy="167.60" r="1.7" fill="#b4b4b4" stroke="#8c8c8c" stroke-width="0.55"/><circle cx="480.46" cy="167.60" r="0.85" fill="#2a2a2a"/>
<circle cx="486.02" cy="198.60" r="1.7" fill="#b4b4b4" stroke="#8c8c8c" stroke-width="0.55"/><circle cx="486.02" cy="198.60" r="0.85" fill="#2a2a2a"/>
<circle cx="488.80" cy="195.40" r="1.7" fill="#b4b4b4" stroke="#8c8c8c" stroke-width="0.55"/><circle cx="488.80" cy="195.40" r="0.85" fill="#2a2a2a"/>
<circle cx="494.36" cy="186.60" r="1.7" fill="#b4b4b4" stroke="#8c8c8c" stroke-width="0.55"/><circle cx="494.36" cy="186.60" r="0.85" fill="#2a2a2a"/>
<circle cx="497.14" cy="201.60" r="1.7" fill="#b4b4b4" stroke="#8c8c8c" stroke-width="0.55"/><circle cx="497.14" cy="201.60" r="0.85" fill="#2a2a2a"/>
<circle cx="502.70" cy="152.00" r="1.7" fill="#b4b4b4" stroke="#8c8c8c" stroke-width="0.55"/><circle cx="502.70" cy="152.00" r="0.85" fill="#2a2a2a"/>
<circle cx="505.48" cy="192.00" r="1.7" fill="#b4b4b4" stroke="#8c8c8c" stroke-width="0.55"/><circle cx="505.48" cy="192.00" r="0.85" fill="#2a2a2a"/>
<circle cx="508.26" cy="156.60" r="1.7" fill="#b4b4b4" stroke="#8c8c8c" stroke-width="0.55"/><circle cx="508.26" cy="156.60" r="0.85" fill="#2a2a2a"/>
<circle cx="516.60" cy="173.40" r="1.7" fill="#b4b4b4" stroke="#8c8c8c" stroke-width="0.55"/><circle cx="516.60" cy="173.40" r="0.85" fill="#2a2a2a"/>
<circle cx="519.38" cy="176.60" r="1.7" fill="#b4b4b4" stroke="#8c8c8c" stroke-width="0.55"/><circle cx="519.38" cy="176.60" r="0.85" fill="#2a2a2a"/>
<circle cx="524.94" cy="176.60" r="1.7" fill="#b4b4b4" stroke="#8c8c8c" stroke-width="0.55"/><circle cx="524.94" cy="176.60" r="0.85" fill="#2a2a2a"/>
<circle cx="527.72" cy="179.40" r="1.7" fill="#b4b4b4" stroke="#8c8c8c" stroke-width="0.55"/><circle cx="527.72" cy="179.40" r="0.85" fill="#2a2a2a"/>
<rect x="126.10" y="174.70" width="2.6" height="2.6" fill="#0a0a0a"/>
<rect x="128.88" y="189.30" width="2.6" height="2.6" fill="#0a0a0a"/>
<rect x="131.66" y="196.10" width="2.6" height="2.6" fill="#0a0a0a"/>
<rect x="134.44" y="184.70" width="2.6" height="2.6" fill="#0a0a0a"/>
<rect x="137.22" y="187.70" width="2.6" height="2.6" fill="#0a0a0a"/>
<rect x="140.00" y="195.10" width="2.6" height="2.6" fill="#0a0a0a"/>
<rect x="142.78" y="196.30" width="2.6" height="2.6" fill="#0a0a0a"/>
<rect x="145.56" y="186.10" width="2.6" height="2.6" fill="#0a0a0a"/>
<rect x="148.34" y="189.70" width="2.6" height="2.6" fill="#0a0a0a"/>
<rect x="151.12" y="185.70" width="2.6" height="2.6" fill="#0a0a0a"/>
<rect x="153.90" y="182.30" width="2.6" height="2.6" fill="#0a0a0a"/>
<rect x="156.68" y="189.70" width="2.6" height="2.6" fill="#0a0a0a"/>
<rect x="159.46" y="191.70" width="2.6" height="2.6" fill="#0a0a0a"/>
<rect x="162.24" y="184.70" width="2.6" height="2.6" fill="#0a0a0a"/>
<rect x="165.02" y="186.70" width="2.6" height="2.6" fill="#0a0a0a"/>
<rect x="167.80" y="184.70" width="2.6" height="2.6" fill="#0a0a0a"/>
<rect x="170.58" y="189.70" width="2.6" height="2.6" fill="#0a0a0a"/>
<rect x="173.36" y="194.70" width="2.6" height="2.6" fill="#0a0a0a"/>
<rect x="176.14" y="189.70" width="2.6" height="2.6" fill="#0a0a0a"/>
<rect x="178.92" y="183.70" width="2.6" height="2.6" fill="#0a0a0a"/>
<rect x="181.70" y="179.70" width="2.6" height="2.6" fill="#0a0a0a"/>
<rect x="184.48" y="187.70" width="2.6" height="2.6" fill="#0a0a0a"/>
<rect x="187.26" y="189.70" width="2.6" height="2.6" fill="#0a0a0a"/>
<rect x="190.04" y="188.70" width="2.6" height="2.6" fill="#0a0a0a"/>
<rect x="192.82" y="188.10" width="2.6" height="2.6" fill="#0a0a0a"/>
<rect x="195.60" y="177.70" width="2.6" height="2.6" fill="#0a0a0a"/>
<rect x="198.38" y="180.10" width="2.6" height="2.6" fill="#0a0a0a"/>
<rect x="201.16" y="190.70" width="2.6" height="2.6" fill="#0a0a0a"/>
<rect x="203.94" y="176.10" width="2.6" height="2.6" fill="#0a0a0a"/>
<rect x="206.72" y="183.70" width="2.6" height="2.6" fill="#0a0a0a"/>
<rect x="209.50" y="184.30" width="2.6" height="2.6" fill="#0a0a0a"/>
<rect x="212.28" y="193.10" width="2.6" height="2.6" fill="#0a0a0a"/>
<rect x="215.06" y="196.10" width="2.6" height="2.6" fill="#0a0a0a"/>
<rect x="217.84" y="189.70" width="2.6" height="2.6" fill="#0a0a0a"/>
<rect x="220.62" y="190.10" width="2.6" height="2.6" fill="#0a0a0a"/>
<rect x="223.40" y="187.70" width="2.6" height="2.6" fill="#0a0a0a"/>
<rect x="226.18" y="191.70" width="2.6" height="2.6" fill="#0a0a0a"/>
<rect x="228.96" y="187.30" width="2.6" height="2.6" fill="#0a0a0a"/>
<rect x="231.74" y="189.70" width="2.6" height="2.6" fill="#0a0a0a"/>
<rect x="234.52" y="188.10" width="2.6" height="2.6" fill="#0a0a0a"/>
<rect x="237.30" y="190.70" width="2.6" height="2.6" fill="#0a0a0a"/>
<rect x="240.08" y="195.30" width="2.6" height="2.6" fill="#0a0a0a"/>
<rect x="242.86" y="187.70" width="2.6" height="2.6" fill="#0a0a0a"/>
<rect x="245.64" y="186.70" width="2.6" height="2.6" fill="#0a0a0a"/>
<rect x="248.42" y="187.70" width="2.6" height="2.6" fill="#0a0a0a"/>
<rect x="251.20" y="182.30" width="2.6" height="2.6" fill="#0a0a0a"/>
<rect x="253.98" y="184.70" width="2.6" height="2.6" fill="#0a0a0a"/>
<rect x="256.76" y="194.70" width="2.6" height="2.6" fill="#0a0a0a"/>
<rect x="259.54" y="190.10" width="2.6" height="2.6" fill="#0a0a0a"/>
<rect x="262.32" y="188.10" width="2.6" height="2.6" fill="#0a0a0a"/>
<rect x="265.10" y="182.70" width="2.6" height="2.6" fill="#0a0a0a"/>
<rect x="267.88" y="189.70" width="2.6" height="2.6" fill="#0a0a0a"/>
<rect x="270.66" y="197.70" width="2.6" height="2.6" fill="#0a0a0a"/>
<rect x="273.44" y="183.70" width="2.6" height="2.6" fill="#0a0a0a"/>
<rect x="276.22" y="187.70" width="2.6" height="2.6" fill="#0a0a0a"/>
<rect x="279.00" y="190.30" width="2.6" height="2.6" fill="#0a0a0a"/>
<rect x="281.78" y="194.70" width="2.6" height="2.6" fill="#0a0a0a"/>
<rect x="284.56" y="192.70" width="2.6" height="2.6" fill="#0a0a0a"/>
<rect x="287.34" y="190.10" width="2.6" height="2.6" fill="#0a0a0a"/>
<rect x="290.12" y="191.70" width="2.6" height="2.6" fill="#0a0a0a"/>
<rect x="292.90" y="195.30" width="2.6" height="2.6" fill="#0a0a0a"/>
<rect x="295.68" y="186.30" width="2.6" height="2.6" fill="#0a0a0a"/>
<rect x="298.46" y="189.70" width="2.6" height="2.6" fill="#0a0a0a"/>
<rect x="301.24" y="191.30" width="2.6" height="2.6" fill="#0a0a0a"/>
<rect x="304.02" y="188.10" width="2.6" height="2.6" fill="#0a0a0a"/>
<rect x="306.80" y="194.10" width="2.6" height="2.6" fill="#0a0a0a"/>
<rect x="309.58" y="193.30" width="2.6" height="2.6" fill="#0a0a0a"/>
<rect x="312.36" y="200.10" width="2.6" height="2.6" fill="#0a0a0a"/>
<rect x="315.14" y="178.70" width="2.6" height="2.6" fill="#0a0a0a"/>
<rect x="317.92" y="190.30" width="2.6" height="2.6" fill="#0a0a0a"/>
<rect x="320.70" y="189.10" width="2.6" height="2.6" fill="#0a0a0a"/>
<rect x="323.48" y="186.10" width="2.6" height="2.6" fill="#0a0a0a"/>
<rect x="326.26" y="188.10" width="2.6" height="2.6" fill="#0a0a0a"/>
<rect x="329.04" y="189.70" width="2.6" height="2.6" fill="#0a0a0a"/>
<rect x="331.82" y="188.70" width="2.6" height="2.6" fill="#0a0a0a"/>
<rect x="334.60" y="189.30" width="2.6" height="2.6" fill="#0a0a0a"/>
<rect x="337.38" y="189.70" width="2.6" height="2.6" fill="#0a0a0a"/>
<rect x="340.16" y="197.70" width="2.6" height="2.6" fill="#0a0a0a"/>
<rect x="342.94" y="189.30" width="2.6" height="2.6" fill="#0a0a0a"/>
<rect x="345.72" y="186.70" width="2.6" height="2.6" fill="#0a0a0a"/>
<rect x="348.50" y="188.10" width="2.6" height="2.6" fill="#0a0a0a"/>
<rect x="351.28" y="197.30" width="2.6" height="2.6" fill="#0a0a0a"/>
<rect x="354.06" y="195.70" width="2.6" height="2.6" fill="#0a0a0a"/>
<rect x="356.84" y="192.70" width="2.6" height="2.6" fill="#0a0a0a"/>
<rect x="359.62" y="190.70" width="2.6" height="2.6" fill="#0a0a0a"/>
<rect x="362.40" y="190.70" width="2.6" height="2.6" fill="#0a0a0a"/>
<rect x="365.18" y="194.70" width="2.6" height="2.6" fill="#0a0a0a"/>
<rect x="367.96" y="193.70" width="2.6" height="2.6" fill="#0a0a0a"/>
<rect x="370.74" y="195.30" width="2.6" height="2.6" fill="#0a0a0a"/>
<rect x="373.52" y="195.30" width="2.6" height="2.6" fill="#0a0a0a"/>
<rect x="376.30" y="191.70" width="2.6" height="2.6" fill="#0a0a0a"/>
<rect x="379.08" y="201.30" width="2.6" height="2.6" fill="#0a0a0a"/>
<rect x="381.86" y="202.30" width="2.6" height="2.6" fill="#0a0a0a"/>
<rect x="384.64" y="194.30" width="2.6" height="2.6" fill="#0a0a0a"/>
<rect x="387.42" y="189.70" width="2.6" height="2.6" fill="#0a0a0a"/>
<rect x="390.20" y="194.70" width="2.6" height="2.6" fill="#0a0a0a"/>
<rect x="392.98" y="188.10" width="2.6" height="2.6" fill="#0a0a0a"/>
<rect x="395.76" y="184.70" width="2.6" height="2.6" fill="#0a0a0a"/>
<rect x="398.54" y="186.70" width="2.6" height="2.6" fill="#0a0a0a"/>
<rect x="401.32" y="188.10" width="2.6" height="2.6" fill="#0a0a0a"/>
<rect x="404.10" y="179.70" width="2.6" height="2.6" fill="#0a0a0a"/>
<rect x="406.88" y="194.10" width="2.6" height="2.6" fill="#0a0a0a"/>
<rect x="409.66" y="184.10" width="2.6" height="2.6" fill="#0a0a0a"/>
<rect x="412.44" y="190.30" width="2.6" height="2.6" fill="#0a0a0a"/>
<rect x="415.22" y="191.10" width="2.6" height="2.6" fill="#0a0a0a"/>
<rect x="418.00" y="179.10" width="2.6" height="2.6" fill="#0a0a0a"/>
<rect x="420.78" y="183.10" width="2.6" height="2.6" fill="#0a0a0a"/>
<rect x="423.56" y="191.10" width="2.6" height="2.6" fill="#0a0a0a"/>
<rect x="426.34" y="189.70" width="2.6" height="2.6" fill="#0a0a0a"/>
<rect x="429.12" y="185.10" width="2.6" height="2.6" fill="#0a0a0a"/>
<rect x="431.90" y="195.70" width="2.6" height="2.6" fill="#0a0a0a"/>
<rect x="434.68" y="185.70" width="2.6" height="2.6" fill="#0a0a0a"/>
<rect x="437.46" y="186.10" width="2.6" height="2.6" fill="#0a0a0a"/>
<rect x="440.24" y="189.70" width="2.6" height="2.6" fill="#0a0a0a"/>
<rect x="443.02" y="186.70" width="2.6" height="2.6" fill="#0a0a0a"/>
<rect x="445.80" y="190.10" width="2.6" height="2.6" fill="#0a0a0a"/>
<rect x="448.58" y="191.30" width="2.6" height="2.6" fill="#0a0a0a"/>
<rect x="451.36" y="193.70" width="2.6" height="2.6" fill="#0a0a0a"/>
<rect x="454.14" y="189.70" width="2.6" height="2.6" fill="#0a0a0a"/>
<rect x="456.92" y="194.10" width="2.6" height="2.6" fill="#0a0a0a"/>
<rect x="459.70" y="191.70" width="2.6" height="2.6" fill="#0a0a0a"/>
<rect x="462.48" y="194.10" width="2.6" height="2.6" fill="#0a0a0a"/>
<rect x="465.26" y="179.70" width="2.6" height="2.6" fill="#0a0a0a"/>
<rect x="468.04" y="181.10" width="2.6" height="2.6" fill="#0a0a0a"/>
<rect x="470.82" y="186.70" width="2.6" height="2.6" fill="#0a0a0a"/>
<rect x="473.60" y="195.70" width="2.6" height="2.6" fill="#0a0a0a"/>
<rect x="476.38" y="189.30" width="2.6" height="2.6" fill="#0a0a0a"/>
<rect x="479.16" y="178.10" width="2.6" height="2.6" fill="#0a0a0a"/>
<rect x="481.94" y="184.70" width="2.6" height="2.6" fill="#0a0a0a"/>
<rect x="484.72" y="193.10" width="2.6" height="2.6" fill="#0a0a0a"/>
<rect x="487.50" y="190.70" width="2.6" height="2.6" fill="#0a0a0a"/>
<rect x="490.28" y="184.70" width="2.6" height="2.6" fill="#0a0a0a"/>
<rect x="493.06" y="187.30" width="2.6" height="2.6" fill="#0a0a0a"/>
<rect x="495.84" y="193.70" width="2.6" height="2.6" fill="#0a0a0a"/>
<rect x="498.62" y="184.70" width="2.6" height="2.6" fill="#0a0a0a"/>
<rect x="501.40" y="171.10" width="2.6" height="2.6" fill="#0a0a0a"/>
<rect x="504.18" y="184.70" width="2.6" height="2.6" fill="#0a0a0a"/>
<rect x="506.96" y="172.30" width="2.6" height="2.6" fill="#0a0a0a"/>
<rect x="509.74" y="183.30" width="2.6" height="2.6" fill="#0a0a0a"/>
<rect x="512.52" y="185.30" width="2.6" height="2.6" fill="#0a0a0a"/>
<rect x="515.30" y="179.10" width="2.6" height="2.6" fill="#0a0a0a"/>
<rect x="518.08" y="181.10" width="2.6" height="2.6" fill="#0a0a0a"/>
<rect x="520.86" y="185.10" width="2.6" height="2.6" fill="#0a0a0a"/>
<rect x="523.64" y="181.70" width="2.6" height="2.6" fill="#0a0a0a"/>
<rect x="526.42" y="183.10" width="2.6" height="2.6" fill="#0a0a0a"/>
<rect x="529.20" y="188.70" width="2.6" height="2.6" fill="#0a0a0a"/>
<rect x="531.98" y="189.70" width="2.6" height="2.6" fill="#0a0a0a"/>
<rect x="534.76" y="188.10" width="2.6" height="2.6" fill="#0a0a0a"/>
<rect x="537.54" y="184.70" width="2.6" height="2.6" fill="#0a0a0a"/>
<rect x="540.32" y="186.10" width="2.6" height="2.6" fill="#0a0a0a"/>
<circle cx="136.6" cy="224.2" r="6.5" fill="#fff" stroke="#1a1a1a" stroke-width="0.9"/>
<text class="sans" x="136.6" y="226.40" font-size="5.9" font-weight="bold" text-anchor="middle" fill="#222">A</text>
<circle cx="204.0" cy="224.2" r="6.5" fill="#fff" stroke="#1a1a1a" stroke-width="0.9"/>
<text class="sans" x="204.0" y="226.40" font-size="5.9" font-weight="bold" text-anchor="middle" fill="#222">B</text>
<circle cx="271.5" cy="224.2" r="6.5" fill="#fff" stroke="#1a1a1a" stroke-width="0.9"/>
<text class="sans" x="271.5" y="226.40" font-size="5.9" font-weight="bold" text-anchor="middle" fill="#222">C</text>
<circle cx="339.0" cy="224.2" r="6.5" fill="#fff" stroke="#1a1a1a" stroke-width="0.9"/>
<text class="sans" x="339.0" y="226.40" font-size="5.9" font-weight="bold" text-anchor="middle" fill="#222">D</text>
<circle cx="406.6" cy="224.2" r="6.5" fill="#fff" stroke="#1a1a1a" stroke-width="0.9"/>
<text class="sans" x="406.6" y="226.40" font-size="5.9" font-weight="bold" text-anchor="middle" fill="#222">E</text>
<circle cx="473.9" cy="224.2" r="6.5" fill="#fff" stroke="#1a1a1a" stroke-width="0.9"/>
<text class="sans" x="473.9" y="226.40" font-size="5.9" font-weight="bold" text-anchor="middle" fill="#222">F</text>
<circle cx="541.2" cy="224.2" r="6.5" fill="#fff" stroke="#1a1a1a" stroke-width="0.9"/>
<text class="sans" x="541.2" y="226.40" font-size="5.9" font-weight="bold" text-anchor="middle" fill="#222">G</text>
</g>
<g id="plot3">
<line x1="126.0" y1="251.60" x2="540.6" y2="251.60" stroke="#e8e8e8" stroke-width="0.7"/>
<text class="sans" x="122" y="253.20" font-size="4.9" text-anchor="end" fill="#6e6e6e">1600</text>
<line x1="126.0" y1="261.55" x2="540.6" y2="261.55" stroke="#e8e8e8" stroke-width="0.7"/>
<text class="sans" x="122" y="263.15" font-size="4.9" text-anchor="end" fill="#6e6e6e">1400</text>
<line x1="126.0" y1="271.50" x2="540.6" y2="271.50" stroke="#e8e8e8" stroke-width="0.7"/>
<text class="sans" x="122" y="273.10" font-size="4.9" text-anchor="end" fill="#6e6e6e">1200</text>
<line x1="126.0" y1="281.45" x2="540.6" y2="281.45" stroke="#e8e8e8" stroke-width="0.7"/>
<text class="sans" x="122" y="283.05" font-size="4.9" text-anchor="end" fill="#6e6e6e">1000</text>
<line x1="126.0" y1="291.40" x2="540.6" y2="291.40" stroke="#e8e8e8" stroke-width="0.7"/>
<text class="sans" x="122" y="293.00" font-size="4.9" text-anchor="end" fill="#6e6e6e">800</text>
<line x1="126.0" y1="301.35" x2="540.6" y2="301.35" stroke="#e8e8e8" stroke-width="0.7"/>
<text class="sans" x="122" y="302.95" font-size="4.9" text-anchor="end" fill="#6e6e6e">600</text>
<line x1="126.0" y1="311.30" x2="540.6" y2="311.30" stroke="#e8e8e8" stroke-width="0.7"/>
<text class="sans" x="122" y="312.90" font-size="4.9" text-anchor="end" fill="#6e6e6e">400</text>
<line x1="126.0" y1="321.25" x2="540.6" y2="321.25" stroke="#e8e8e8" stroke-width="0.7"/>
<text class="sans" x="122" y="322.85" font-size="4.9" text-anchor="end" fill="#6e6e6e">200</text>
<line x1="126.0" y1="331.20" x2="540.6" y2="331.20" stroke="#e8e8e8" stroke-width="0.7"/>
<text class="sans" x="122" y="332.80" font-size="4.9" text-anchor="end" fill="#6e6e6e">0</text>
<text class="serif" x="320.2" y="241.60" font-size="8.8" text-anchor="middle" fill="#000" textLength="19.8" lengthAdjust="spacingAndGlyphs">Plot 3</text>
<text class="serif" transform="translate(107.5,290.90) rotate(-90)" font-size="7.1" text-anchor="middle" fill="#111" stroke="#111" stroke-width="0.12" textLength="63" lengthAdjust="spacingAndGlyphs">Fresh Weight - FW (g)</text>
<circle cx="127.40" cy="323.00" r="1.7" fill="#b4b4b4" stroke="#8c8c8c" stroke-width="0.55"/><circle cx="127.40" cy="323.00" r="0.85" fill="#2a2a2a"/>
<circle cx="130.16" cy="260.40" r="1.7" fill="#b4b4b4" stroke="#8c8c8c" stroke-width="0.55"/><circle cx="130.16" cy="260.40" r="0.85" fill="#2a2a2a"/>
<circle cx="132.92" cy="279.40" r="1.7" fill="#b4b4b4" stroke="#8c8c8c" stroke-width="0.55"/><circle cx="132.92" cy="279.40" r="0.85" fill="#2a2a2a"/>
<circle cx="135.68" cy="295.60" r="1.7" fill="#b4b4b4" stroke="#8c8c8c" stroke-width="0.55"/><circle cx="135.68" cy="295.60" r="0.85" fill="#2a2a2a"/>
<circle cx="138.44" cy="324.40" r="1.7" fill="#b4b4b4" stroke="#8c8c8c" stroke-width="0.55"/><circle cx="138.44" cy="324.40" r="0.85" fill="#2a2a2a"/>
<circle cx="141.20" cy="292.00" r="1.7" fill="#b4b4b4" stroke="#8c8c8c" stroke-width="0.55"/><circle cx="141.20" cy="292.00" r="0.85" fill="#2a2a2a"/>
<circle cx="143.96" cy="297.00" r="1.7" fill="#b4b4b4" stroke="#8c8c8c" stroke-width="0.55"/><circle cx="143.96" cy="297.00" r="0.85" fill="#2a2a2a"/>
<circle cx="146.72" cy="288.00" r="1.7" fill="#b4b4b4" stroke="#8c8c8c" stroke-width="0.55"/><circle cx="146.72" cy="288.00" r="0.85" fill="#2a2a2a"/>
<circle cx="149.48" cy="281.00" r="1.7" fill="#b4b4b4" stroke="#8c8c8c" stroke-width="0.55"/><circle cx="149.48" cy="281.00" r="0.85" fill="#2a2a2a"/>
<circle cx="152.24" cy="285.60" r="1.7" fill="#b4b4b4" stroke="#8c8c8c" stroke-width="0.55"/><circle cx="152.24" cy="285.60" r="0.85" fill="#2a2a2a"/>
<circle cx="155.00" cy="280.00" r="1.7" fill="#b4b4b4" stroke="#8c8c8c" stroke-width="0.55"/><circle cx="155.00" cy="280.00" r="0.85" fill="#2a2a2a"/>
<circle cx="157.76" cy="303.00" r="1.7" fill="#b4b4b4" stroke="#8c8c8c" stroke-width="0.55"/><circle cx="157.76" cy="303.00" r="0.85" fill="#2a2a2a"/>
<circle cx="163.28" cy="284.40" r="1.7" fill="#b4b4b4" stroke="#8c8c8c" stroke-width="0.55"/><circle cx="163.28" cy="284.40" r="0.85" fill="#2a2a2a"/>
<circle cx="166.04" cy="295.00" r="1.7" fill="#b4b4b4" stroke="#8c8c8c" stroke-width="0.55"/><circle cx="166.04" cy="295.00" r="0.85" fill="#2a2a2a"/>
<circle cx="168.80" cy="304.60" r="1.7" fill="#b4b4b4" stroke="#8c8c8c" stroke-width="0.55"/><circle cx="168.80" cy="304.60" r="0.85" fill="#2a2a2a"/>
<circle cx="171.56" cy="284.60" r="1.7" fill="#b4b4b4" stroke="#8c8c8c" stroke-width="0.55"/><circle cx="171.56" cy="284.60" r="0.85" fill="#2a2a2a"/>
<circle cx="174.32" cy="285.60" r="1.7" fill="#b4b4b4" stroke="#8c8c8c" stroke-width="0.55"/><circle cx="174.32" cy="285.60" r="0.85" fill="#2a2a2a"/>
<circle cx="177.08" cy="305.40" r="1.7" fill="#b4b4b4" stroke="#8c8c8c" stroke-width="0.55"/><circle cx="177.08" cy="305.40" r="0.85" fill="#2a2a2a"/>
<circle cx="196.40" cy="308.00" r="1.7" fill="#b4b4b4" stroke="#8c8c8c" stroke-width="0.55"/><circle cx="196.40" cy="308.00" r="0.85" fill="#2a2a2a"/>
<circle cx="199.16" cy="283.00" r="1.7" fill="#b4b4b4" stroke="#8c8c8c" stroke-width="0.55"/><circle cx="199.16" cy="283.00" r="0.85" fill="#2a2a2a"/>
<circle cx="204.68" cy="316.40" r="1.7" fill="#b4b4b4" stroke="#8c8c8c" stroke-width="0.55"/><circle cx="204.68" cy="316.40" r="0.85" fill="#2a2a2a"/>
<circle cx="207.44" cy="296.60" r="1.7" fill="#b4b4b4" stroke="#8c8c8c" stroke-width="0.55"/><circle cx="207.44" cy="296.60" r="0.85" fill="#2a2a2a"/>
<circle cx="210.20" cy="293.00" r="1.7" fill="#b4b4b4" stroke="#8c8c8c" stroke-width="0.55"/><circle cx="210.20" cy="293.00" r="0.85" fill="#2a2a2a"/>
<circle cx="212.96" cy="288.00" r="1.7" fill="#b4b4b4" stroke="#8c8c8c" stroke-width="0.55"/><circle cx="212.96" cy="288.00" r="0.85" fill="#2a2a2a"/>
<circle cx="215.72" cy="313.60" r="1.7" fill="#b4b4b4" stroke="#8c8c8c" stroke-width="0.55"/><circle cx="215.72" cy="313.60" r="0.85" fill="#2a2a2a"/>
<circle cx="218.48" cy="322.00" r="1.7" fill="#b4b4b4" stroke="#8c8c8c" stroke-width="0.55"/><circle cx="218.48" cy="322.00" r="0.85" fill="#2a2a2a"/>
<circle cx="221.24" cy="300.40" r="1.7" fill="#b4b4b4" stroke="#8c8c8c" stroke-width="0.55"/><circle cx="221.24" cy="300.40" r="0.85" fill="#2a2a2a"/>
<circle cx="224.00" cy="265.60" r="1.7" fill="#b4b4b4" stroke="#8c8c8c" stroke-width="0.55"/><circle cx="224.00" cy="265.60" r="0.85" fill="#2a2a2a"/>
<circle cx="226.76" cy="306.40" r="1.7" fill="#b4b4b4" stroke="#8c8c8c" stroke-width="0.55"/><circle cx="226.76" cy="306.40" r="0.85" fill="#2a2a2a"/>
<circle cx="232.28" cy="287.00" r="1.7" fill="#b4b4b4" stroke="#8c8c8c" stroke-width="0.55"/><circle cx="232.28" cy="287.00" r="0.85" fill="#2a2a2a"/>
<circle cx="235.04" cy="312.40" r="1.7" fill="#b4b4b4" stroke="#8c8c8c" stroke-width="0.55"/><circle cx="235.04" cy="312.40" r="0.85" fill="#2a2a2a"/>
<circle cx="243.32" cy="307.00" r="1.7" fill="#b4b4b4" stroke="#8c8c8c" stroke-width="0.55"/><circle cx="243.32" cy="307.00" r="0.85" fill="#2a2a2a"/>
<circle cx="246.08" cy="296.40" r="1.7" fill="#b4b4b4" stroke="#8c8c8c" stroke-width="0.55"/><circle cx="246.08" cy="296.40" r="0.85" fill="#2a2a2a"/>
<circle cx="248.84" cy="301.00" r="1.7" fill="#b4b4b4" stroke="#8c8c8c" stroke-width="0.55"/><circle cx="248.84" cy="301.00" r="0.85" fill="#2a2a2a"/>
<circle cx="251.60" cy="302.00" r="1.7" fill="#b4b4b4" stroke="#8c8c8c" stroke-width="0.55"/><circle cx="251.60" cy="302.00" r="0.85" fill="#2a2a2a"/>
<circle cx="254.36" cy="291.00" r="1.7" fill="#b4b4b4" stroke="#8c8c8c" stroke-width="0.55"/><circle cx="254.36" cy="291.00" r="0.85" fill="#2a2a2a"/>
<circle cx="257.12" cy="299.00" r="1.7" fill="#b4b4b4" stroke="#8c8c8c" stroke-width="0.55"/><circle cx="257.12" cy="299.00" r="0.85" fill="#2a2a2a"/>
<circle cx="259.88" cy="299.60" r="1.7" fill="#b4b4b4" stroke="#8c8c8c" stroke-width="0.55"/><circle cx="259.88" cy="299.60" r="0.85" fill="#2a2a2a"/>
<circle cx="262.64" cy="285.00" r="1.7" fill="#b4b4b4" stroke="#8c8c8c" stroke-width="0.55"/><circle cx="262.64" cy="285.00" r="0.85" fill="#2a2a2a"/>
<circle cx="265.40" cy="283.40" r="1.7" fill="#b4b4b4" stroke="#8c8c8c" stroke-width="0.55"/><circle cx="265.40" cy="283.40" r="0.85" fill="#2a2a2a"/>
<circle cx="268.16" cy="280.00" r="1.7" fill="#b4b4b4" stroke="#8c8c8c" stroke-width="0.55"/><circle cx="268.16" cy="280.00" r="0.85" fill="#2a2a2a"/>
<circle cx="270.92" cy="288.00" r="1.7" fill="#b4b4b4" stroke="#8c8c8c" stroke-width="0.55"/><circle cx="270.92" cy="288.00" r="0.85" fill="#2a2a2a"/>
<circle cx="276.44" cy="290.00" r="1.7" fill="#b4b4b4" stroke="#8c8c8c" stroke-width="0.55"/><circle cx="276.44" cy="290.00" r="0.85" fill="#2a2a2a"/>
<circle cx="279.20" cy="262.00" r="1.7" fill="#b4b4b4" stroke="#8c8c8c" stroke-width="0.55"/><circle cx="279.20" cy="262.00" r="0.85" fill="#2a2a2a"/>
<circle cx="281.96" cy="317.60" r="1.7" fill="#b4b4b4" stroke="#8c8c8c" stroke-width="0.55"/><circle cx="281.96" cy="317.60" r="0.85" fill="#2a2a2a"/>
<circle cx="284.72" cy="297.00" r="1.7" fill="#b4b4b4" stroke="#8c8c8c" stroke-width="0.55"/><circle cx="284.72" cy="297.00" r="0.85" fill="#2a2a2a"/>
<circle cx="293.00" cy="285.40" r="1.7" fill="#b4b4b4" stroke="#8c8c8c" stroke-width="0.55"/><circle cx="293.00" cy="285.40" r="0.85" fill="#2a2a2a"/>
<circle cx="295.76" cy="283.60" r="1.7" fill="#b4b4b4" stroke="#8c8c8c" stroke-width="0.55"/><circle cx="295.76" cy="283.60" r="0.85" fill="#2a2a2a"/>
<circle cx="298.52" cy="319.60" r="1.7" fill="#b4b4b4" stroke="#8c8c8c" stroke-width="0.55"/><circle cx="298.52" cy="319.60" r="0.85" fill="#2a2a2a"/>
<circle cx="301.28" cy="277.40" r="1.7" fill="#b4b4b4" stroke="#8c8c8c" stroke-width="0.55"/><circle cx="301.28" cy="277.40" r="0.85" fill="#2a2a2a"/>
<circle cx="304.04" cy="284.60" r="1.7" fill="#b4b4b4" stroke="#8c8c8c" stroke-width="0.55"/><circle cx="304.04" cy="284.60" r="0.85" fill="#2a2a2a"/>
<circle cx="306.80" cy="306.00" r="1.7" fill="#b4b4b4" stroke="#8c8c8c" stroke-width="0.55"/><circle cx="306.80" cy="306.00" r="0.85" fill="#2a2a2a"/>
<circle cx="309.56" cy="284.60" r="1.7" fill="#b4b4b4" stroke="#8c8c8c" stroke-width="0.55"/><circle cx="309.56" cy="284.60" r="0.85" fill="#2a2a2a"/>
<circle cx="315.08" cy="270.00" r="1.7" fill="#b4b4b4" stroke="#8c8c8c" stroke-width="0.55"/><circle cx="315.08" cy="270.00" r="0.85" fill="#2a2a2a"/>
<circle cx="317.84" cy="283.40" r="1.7" fill="#b4b4b4" stroke="#8c8c8c" stroke-width="0.55"/><circle cx="317.84" cy="283.40" r="0.85" fill="#2a2a2a"/>
<circle cx="323.36" cy="295.40" r="1.7" fill="#b4b4b4" stroke="#8c8c8c" stroke-width="0.55"/><circle cx="323.36" cy="295.40" r="0.85" fill="#2a2a2a"/>
<circle cx="326.12" cy="296.60" r="1.7" fill="#b4b4b4" stroke="#8c8c8c" stroke-width="0.55"/><circle cx="326.12" cy="296.60" r="0.85" fill="#2a2a2a"/>
<circle cx="334.40" cy="281.40" r="1.7" fill="#b4b4b4" stroke="#8c8c8c" stroke-width="0.55"/><circle cx="334.40" cy="281.40" r="0.85" fill="#2a2a2a"/>
<circle cx="337.16" cy="286.60" r="1.7" fill="#b4b4b4" stroke="#8c8c8c" stroke-width="0.55"/><circle cx="337.16" cy="286.60" r="0.85" fill="#2a2a2a"/>
<circle cx="339.92" cy="283.60" r="1.7" fill="#b4b4b4" stroke="#8c8c8c" stroke-width="0.55"/><circle cx="339.92" cy="283.60" r="0.85" fill="#2a2a2a"/>
<circle cx="345.44" cy="296.00" r="1.7" fill="#b4b4b4" stroke="#8c8c8c" stroke-width="0.55"/><circle cx="345.44" cy="296.00" r="0.85" fill="#2a2a2a"/>
<circle cx="348.20" cy="284.40" r="1.7" fill="#b4b4b4" stroke="#8c8c8c" stroke-width="0.55"/><circle cx="348.20" cy="284.40" r="0.85" fill="#2a2a2a"/>
<circle cx="350.96" cy="288.60" r="1.7" fill="#b4b4b4" stroke="#8c8c8c" stroke-width="0.55"/><circle cx="350.96" cy="288.60" r="0.85" fill="#2a2a2a"/>
<circle cx="359.24" cy="305.00" r="1.7" fill="#b4b4b4" stroke="#8c8c8c" stroke-width="0.55"/><circle cx="359.24" cy="305.00" r="0.85" fill="#2a2a2a"/>
<circle cx="364.76" cy="311.00" r="1.7" fill="#b4b4b4" stroke="#8c8c8c" stroke-width="0.55"/><circle cx="364.76" cy="311.00" r="0.85" fill="#2a2a2a"/>
<circle cx="367.52" cy="297.00" r="1.7" fill="#b4b4b4" stroke="#8c8c8c" stroke-width="0.55"/><circle cx="367.52" cy="297.00" r="0.85" fill="#2a2a2a"/>
<circle cx="370.28" cy="290.00" r="1.7" fill="#b4b4b4" stroke="#8c8c8c" stroke-width="0.55"/><circle cx="370.28" cy="290.00" r="0.85" fill="#2a2a2a"/>
<circle cx="373.04" cy="302.00" r="1.7" fill="#b4b4b4" stroke="#8c8c8c" stroke-width="0.55"/><circle cx="373.04" cy="302.00" r="0.85" fill="#2a2a2a"/>
<circle cx="378.56" cy="306.00" r="1.7" fill="#b4b4b4" stroke="#8c8c8c" stroke-width="0.55"/><circle cx="378.56" cy="306.00" r="0.85" fill="#2a2a2a"/>
<circle cx="381.32" cy="304.40" r="1.7" fill="#b4b4b4" stroke="#8c8c8c" stroke-width="0.55"/><circle cx="381.32" cy="304.40" r="0.85" fill="#2a2a2a"/>
<circle cx="384.08" cy="302.60" r="1.7" fill="#b4b4b4" stroke="#8c8c8c" stroke-width="0.55"/><circle cx="384.08" cy="302.60" r="0.85" fill="#2a2a2a"/>
<circle cx="389.60" cy="311.40" r="1.7" fill="#b4b4b4" stroke="#8c8c8c" stroke-width="0.55"/><circle cx="389.60" cy="311.40" r="0.85" fill="#2a2a2a"/>
<circle cx="392.36" cy="298.40" r="1.7" fill="#b4b4b4" stroke="#8c8c8c" stroke-width="0.55"/><circle cx="392.36" cy="298.40" r="0.85" fill="#2a2a2a"/>
<circle cx="395.12" cy="305.60" r="1.7" fill="#b4b4b4" stroke="#8c8c8c" stroke-width="0.55"/><circle cx="395.12" cy="305.60" r="0.85" fill="#2a2a2a"/>
<circle cx="397.88" cy="273.60" r="1.7" fill="#b4b4b4" stroke="#8c8c8c" stroke-width="0.55"/><circle cx="397.88" cy="273.60" r="0.85" fill="#2a2a2a"/>
<circle cx="400.64" cy="286.40" r="1.7" fill="#b4b4b4" stroke="#8c8c8c" stroke-width="0.55"/><circle cx="400.64" cy="286.40" r="0.85" fill="#2a2a2a"/>
<circle cx="403.40" cy="304.60" r="1.7" fill="#b4b4b4" stroke="#8c8c8c" stroke-width="0.55"/><circle cx="403.40" cy="304.60" r="0.85" fill="#2a2a2a"/>
<circle cx="406.16" cy="283.00" r="1.7" fill="#b4b4b4" stroke="#8c8c8c" stroke-width="0.55"/><circle cx="406.16" cy="283.00" r="0.85" fill="#2a2a2a"/>
<circle cx="414.44" cy="301.00" r="1.7" fill="#b4b4b4" stroke="#8c8c8c" stroke-width="0.55"/><circle cx="414.44" cy="301.00" r="0.85" fill="#2a2a2a"/>
<circle cx="417.20" cy="306.40" r="1.7" fill="#b4b4b4" stroke="#8c8c8c" stroke-width="0.55"/><circle cx="417.20" cy="306.40" r="0.85" fill="#2a2a2a"/>
<circle cx="419.96" cy="316.60" r="1.7" fill="#b4b4b4" stroke="#8c8c8c" stroke-width="0.55"/><circle cx="419.96" cy="316.60" r="0.85" fill="#2a2a2a"/>
<circle cx="422.72" cy="288.00" r="1.7" fill="#b4b4b4" stroke="#8c8c8c" stroke-width="0.55"/><circle cx="422.72" cy="288.00" r="0.85" fill="#2a2a2a"/>
<circle cx="428.24" cy="301.40" r="1.7" fill="#b4b4b4" stroke="#8c8c8c" stroke-width="0.55"/><circle cx="428.24" cy="301.40" r="0.85" fill="#2a2a2a"/>
<circle cx="433.76" cy="297.60" r="1.7" fill="#b4b4b4" stroke="#8c8c8c" stroke-width="0.55"/><circle cx="433.76" cy="297.60" r="0.85" fill="#2a2a2a"/>
<circle cx="436.52" cy="286.00" r="1.7" fill="#b4b4b4" stroke="#8c8c8c" stroke-width="0.55"/><circle cx="436.52" cy="286.00" r="0.85" fill="#2a2a2a"/>
<circle cx="439.28" cy="274.00" r="1.7" fill="#b4b4b4" stroke="#8c8c8c" stroke-width="0.55"/><circle cx="439.28" cy="274.00" r="0.85" fill="#2a2a2a"/>
<circle cx="442.04" cy="300.00" r="1.7" fill="#b4b4b4" stroke="#8c8c8c" stroke-width="0.55"/><circle cx="442.04" cy="300.00" r="0.85" fill="#2a2a2a"/>
<circle cx="444.80" cy="286.60" r="1.7" fill="#b4b4b4" stroke="#8c8c8c" stroke-width="0.55"/><circle cx="444.80" cy="286.60" r="0.85" fill="#2a2a2a"/>
<circle cx="447.56" cy="281.60" r="1.7" fill="#b4b4b4" stroke="#8c8c8c" stroke-width="0.55"/><circle cx="447.56" cy="281.60" r="0.85" fill="#2a2a2a"/>
<circle cx="450.32" cy="284.60" r="1.7" fill="#b4b4b4" stroke="#8c8c8c" stroke-width="0.55"/><circle cx="450.32" cy="284.60" r="0.85" fill="#2a2a2a"/>
<circle cx="453.08" cy="297.60" r="1.7" fill="#b4b4b4" stroke="#8c8c8c" stroke-width="0.55"/><circle cx="453.08" cy="297.60" r="0.85" fill="#2a2a2a"/>
<circle cx="472.40" cy="297.60" r="1.7" fill="#b4b4b4" stroke="#8c8c8c" stroke-width="0.55"/><circle cx="472.40" cy="297.60" r="0.85" fill="#2a2a2a"/>
<circle cx="477.92" cy="279.00" r="1.7" fill="#b4b4b4" stroke="#8c8c8c" stroke-width="0.55"/><circle cx="477.92" cy="279.00" r="0.85" fill="#2a2a2a"/>
<circle cx="480.68" cy="302.60" r="1.7" fill="#b4b4b4" stroke="#8c8c8c" stroke-width="0.55"/><circle cx="480.68" cy="302.60" r="0.85" fill="#2a2a2a"/>
<circle cx="483.44" cy="293.40" r="1.7" fill="#b4b4b4" stroke="#8c8c8c" stroke-width="0.55"/><circle cx="483.44" cy="293.40" r="0.85" fill="#2a2a2a"/>
<circle cx="486.20" cy="317.00" r="1.7" fill="#b4b4b4" stroke="#8c8c8c" stroke-width="0.55"/><circle cx="486.20" cy="317.00" r="0.85" fill="#2a2a2a"/>
<circle cx="491.72" cy="275.40" r="1.7" fill="#b4b4b4" stroke="#8c8c8c" stroke-width="0.55"/><circle cx="491.72" cy="275.40" r="0.85" fill="#2a2a2a"/>
<circle cx="497.24" cy="310.00" r="1.7" fill="#b4b4b4" stroke="#8c8c8c" stroke-width="0.55"/><circle cx="497.24" cy="310.00" r="0.85" fill="#2a2a2a"/>
<circle cx="500.00" cy="311.40" r="1.7" fill="#b4b4b4" stroke="#8c8c8c" stroke-width="0.55"/><circle cx="500.00" cy="311.40" r="0.85" fill="#2a2a2a"/>
<circle cx="502.76" cy="273.60" r="1.7" fill="#b4b4b4" stroke="#8c8c8c" stroke-width="0.55"/><circle cx="502.76" cy="273.60" r="0.85" fill="#2a2a2a"/>
<circle cx="505.52" cy="287.40" r="1.7" fill="#b4b4b4" stroke="#8c8c8c" stroke-width="0.55"/><circle cx="505.52" cy="287.40" r="0.85" fill="#2a2a2a"/>
<circle cx="508.28" cy="300.00" r="1.7" fill="#b4b4b4" stroke="#8c8c8c" stroke-width="0.55"/><circle cx="508.28" cy="300.00" r="0.85" fill="#2a2a2a"/>
<circle cx="511.04" cy="314.60" r="1.7" fill="#b4b4b4" stroke="#8c8c8c" stroke-width="0.55"/><circle cx="511.04" cy="314.60" r="0.85" fill="#2a2a2a"/>
<circle cx="513.80" cy="287.00" r="1.7" fill="#b4b4b4" stroke="#8c8c8c" stroke-width="0.55"/><circle cx="513.80" cy="287.00" r="0.85" fill="#2a2a2a"/>
<circle cx="516.56" cy="305.60" r="1.7" fill="#b4b4b4" stroke="#8c8c8c" stroke-width="0.55"/><circle cx="516.56" cy="305.60" r="0.85" fill="#2a2a2a"/>
<circle cx="522.08" cy="284.00" r="1.7" fill="#b4b4b4" stroke="#8c8c8c" stroke-width="0.55"/><circle cx="522.08" cy="284.00" r="0.85" fill="#2a2a2a"/>
<rect x="126.10" y="306.10" width="2.6" height="2.6" fill="#0a0a0a"/>
<rect x="128.86" y="278.30" width="2.6" height="2.6" fill="#0a0a0a"/>
<rect x="131.62" y="285.10" width="2.6" height="2.6" fill="#0a0a0a"/>
<rect x="134.38" y="295.70" width="2.6" height="2.6" fill="#0a0a0a"/>
<rect x="137.14" y="307.30" width="2.6" height="2.6" fill="#0a0a0a"/>
<rect x="139.90" y="293.70" width="2.6" height="2.6" fill="#0a0a0a"/>
<rect x="142.66" y="294.10" width="2.6" height="2.6" fill="#0a0a0a"/>
<rect x="145.42" y="290.70" width="2.6" height="2.6" fill="#0a0a0a"/>
<rect x="148.18" y="289.70" width="2.6" height="2.6" fill="#0a0a0a"/>
<rect x="150.94" y="289.70" width="2.6" height="2.6" fill="#0a0a0a"/>
<rect x="153.70" y="285.10" width="2.6" height="2.6" fill="#0a0a0a"/>
<rect x="156.46" y="297.10" width="2.6" height="2.6" fill="#0a0a0a"/>
<rect x="159.22" y="294.10" width="2.6" height="2.6" fill="#0a0a0a"/>
<rect x="161.98" y="289.10" width="2.6" height="2.6" fill="#0a0a0a"/>
<rect x="164.74" y="292.30" width="2.6" height="2.6" fill="#0a0a0a"/>
<rect x="167.50" y="298.30" width="2.6" height="2.6" fill="#0a0a0a"/>
<rect x="170.26" y="289.10" width="2.6" height="2.6" fill="#0a0a0a"/>
<rect x="173.02" y="290.30" width="2.6" height="2.6" fill="#0a0a0a"/>
<rect x="175.78" y="298.70" width="2.6" height="2.6" fill="#0a0a0a"/>
<rect x="178.54" y="295.10" width="2.6" height="2.6" fill="#0a0a0a"/>
<rect x="181.30" y="294.70" width="2.6" height="2.6" fill="#0a0a0a"/>
<rect x="184.06" y="293.70" width="2.6" height="2.6" fill="#0a0a0a"/>
<rect x="186.82" y="294.10" width="2.6" height="2.6" fill="#0a0a0a"/>
<rect x="189.58" y="294.70" width="2.6" height="2.6" fill="#0a0a0a"/>
<rect x="192.34" y="292.70" width="2.6" height="2.6" fill="#0a0a0a"/>
<rect x="195.10" y="299.30" width="2.6" height="2.6" fill="#0a0a0a"/>
<rect x="197.86" y="284.70" width="2.6" height="2.6" fill="#0a0a0a"/>
<rect x="200.62" y="290.70" width="2.6" height="2.6" fill="#0a0a0a"/>
<rect x="203.38" y="303.70" width="2.6" height="2.6" fill="#0a0a0a"/>
<rect x="206.14" y="295.70" width="2.6" height="2.6" fill="#0a0a0a"/>
<rect x="208.90" y="292.10" width="2.6" height="2.6" fill="#0a0a0a"/>
<rect x="211.66" y="292.30" width="2.6" height="2.6" fill="#0a0a0a"/>
<rect x="214.42" y="302.30" width="2.6" height="2.6" fill="#0a0a0a"/>
<rect x="217.18" y="305.10" width="2.6" height="2.6" fill="#0a0a0a"/>
<rect x="219.94" y="295.10" width="2.6" height="2.6" fill="#0a0a0a"/>
<rect x="222.70" y="280.30" width="2.6" height="2.6" fill="#0a0a0a"/>
<rect x="225.46" y="297.70" width="2.6" height="2.6" fill="#0a0a0a"/>
<rect x="228.22" y="296.10" width="2.6" height="2.6" fill="#0a0a0a"/>
<rect x="230.98" y="289.70" width="2.6" height="2.6" fill="#0a0a0a"/>
<rect x="233.74" y="300.10" width="2.6" height="2.6" fill="#0a0a0a"/>
<rect x="236.50" y="295.70" width="2.6" height="2.6" fill="#0a0a0a"/>
<rect x="239.26" y="291.70" width="2.6" height="2.6" fill="#0a0a0a"/>
<rect x="242.02" y="298.70" width="2.6" height="2.6" fill="#0a0a0a"/>
<rect x="244.78" y="294.70" width="2.6" height="2.6" fill="#0a0a0a"/>
<rect x="247.54" y="295.70" width="2.6" height="2.6" fill="#0a0a0a"/>
<rect x="250.30" y="297.10" width="2.6" height="2.6" fill="#0a0a0a"/>
<rect x="253.06" y="292.70" width="2.6" height="2.6" fill="#0a0a0a"/>
<rect x="255.82" y="295.70" width="2.6" height="2.6" fill="#0a0a0a"/>
<rect x="258.58" y="295.70" width="2.6" height="2.6" fill="#0a0a0a"/>
<rect x="261.34" y="288.70" width="2.6" height="2.6" fill="#0a0a0a"/>
<rect x="264.10" y="287.70" width="2.6" height="2.6" fill="#0a0a0a"/>
<rect x="266.86" y="284.70" width="2.6" height="2.6" fill="#0a0a0a"/>
<rect x="269.62" y="289.70" width="2.6" height="2.6" fill="#0a0a0a"/>
<rect x="272.38" y="295.70" width="2.6" height="2.6" fill="#0a0a0a"/>
<rect x="275.14" y="291.10" width="2.6" height="2.6" fill="#0a0a0a"/>
<rect x="277.90" y="279.10" width="2.6" height="2.6" fill="#0a0a0a"/>
<rect x="280.66" y="301.70" width="2.6" height="2.6" fill="#0a0a0a"/>
<rect x="283.42" y="298.10" width="2.6" height="2.6" fill="#0a0a0a"/>
<rect x="286.18" y="298.30" width="2.6" height="2.6" fill="#0a0a0a"/>
<rect x="288.94" y="294.30" width="2.6" height="2.6" fill="#0a0a0a"/>
<rect x="291.70" y="288.10" width="2.6" height="2.6" fill="#0a0a0a"/>
<rect x="294.46" y="291.10" width="2.6" height="2.6" fill="#0a0a0a"/>
<rect x="297.22" y="304.10" width="2.6" height="2.6" fill="#0a0a0a"/>
<rect x="299.98" y="286.70" width="2.6" height="2.6" fill="#0a0a0a"/>
<rect x="302.74" y="290.70" width="2.6" height="2.6" fill="#0a0a0a"/>
<rect x="305.50" y="298.30" width="2.6" height="2.6" fill="#0a0a0a"/>
<rect x="308.26" y="290.70" width="2.6" height="2.6" fill="#0a0a0a"/>
<rect x="311.02" y="295.70" width="2.6" height="2.6" fill="#0a0a0a"/>
<rect x="313.78" y="284.10" width="2.6" height="2.6" fill="#0a0a0a"/>
<rect x="316.54" y="289.10" width="2.6" height="2.6" fill="#0a0a0a"/>
<rect x="319.30" y="296.10" width="2.6" height="2.6" fill="#0a0a0a"/>
<rect x="322.06" y="294.70" width="2.6" height="2.6" fill="#0a0a0a"/>
<rect x="324.82" y="295.70" width="2.6" height="2.6" fill="#0a0a0a"/>
<rect x="327.58" y="291.70" width="2.6" height="2.6" fill="#0a0a0a"/>
<rect x="330.34" y="290.10" width="2.6" height="2.6" fill="#0a0a0a"/>
<rect x="333.10" y="285.70" width="2.6" height="2.6" fill="#0a0a0a"/>
<rect x="335.86" y="287.30" width="2.6" height="2.6" fill="#0a0a0a"/>
<rect x="338.62" y="287.10" width="2.6" height="2.6" fill="#0a0a0a"/>
<rect x="341.38" y="293.70" width="2.6" height="2.6" fill="#0a0a0a"/>
<rect x="344.14" y="293.70" width="2.6" height="2.6" fill="#0a0a0a"/>
<rect x="346.90" y="288.70" width="2.6" height="2.6" fill="#0a0a0a"/>
<rect x="349.66" y="293.70" width="2.6" height="2.6" fill="#0a0a0a"/>
<rect x="352.42" y="294.30" width="2.6" height="2.6" fill="#0a0a0a"/>
<rect x="355.18" y="295.70" width="2.6" height="2.6" fill="#0a0a0a"/>
<rect x="357.94" y="297.70" width="2.6" height="2.6" fill="#0a0a0a"/>
<rect x="360.70" y="293.30" width="2.6" height="2.6" fill="#0a0a0a"/>
<rect x="363.46" y="300.70" width="2.6" height="2.6" fill="#0a0a0a"/>
<rect x="366.22" y="296.70" width="2.6" height="2.6" fill="#0a0a0a"/>
<rect x="368.98" y="289.10" width="2.6" height="2.6" fill="#0a0a0a"/>
<rect x="371.74" y="296.10" width="2.6" height="2.6" fill="#0a0a0a"/>
<rect x="374.50" y="294.30" width="2.6" height="2.6" fill="#0a0a0a"/>
<rect x="377.26" y="297.10" width="2.6" height="2.6" fill="#0a0a0a"/>
<rect x="380.02" y="297.10" width="2.6" height="2.6" fill="#0a0a0a"/>
<rect x="382.78" y="295.70" width="2.6" height="2.6" fill="#0a0a0a"/>
<rect x="385.54" y="295.70" width="2.6" height="2.6" fill="#0a0a0a"/>
<rect x="388.30" y="300.70" width="2.6" height="2.6" fill="#0a0a0a"/>
<rect x="391.06" y="298.70" width="2.6" height="2.6" fill="#0a0a0a"/>
<rect x="393.82" y="297.70" width="2.6" height="2.6" fill="#0a0a0a"/>
<rect x="396.58" y="284.10" width="2.6" height="2.6" fill="#0a0a0a"/>
<rect x="399.34" y="289.10" width="2.6" height="2.6" fill="#0a0a0a"/>
<rect x="402.10" y="296.10" width="2.6" height="2.6" fill="#0a0a0a"/>
<rect x="404.86" y="287.70" width="2.6" height="2.6" fill="#0a0a0a"/>
<rect x="407.62" y="290.70" width="2.6" height="2.6" fill="#0a0a0a"/>
<rect x="410.38" y="293.70" width="2.6" height="2.6" fill="#0a0a0a"/>
<rect x="413.14" y="296.30" width="2.6" height="2.6" fill="#0a0a0a"/>
<rect x="415.90" y="300.10" width="2.6" height="2.6" fill="#0a0a0a"/>
<rect x="418.66" y="303.70" width="2.6" height="2.6" fill="#0a0a0a"/>
<rect x="421.42" y="290.30" width="2.6" height="2.6" fill="#0a0a0a"/>
<rect x="424.18" y="293.70" width="2.6" height="2.6" fill="#0a0a0a"/>
<rect x="426.94" y="299.70" width="2.6" height="2.6" fill="#0a0a0a"/>
<rect x="429.70" y="298.30" width="2.6" height="2.6" fill="#0a0a0a"/>
<rect x="432.46" y="295.70" width="2.6" height="2.6" fill="#0a0a0a"/>
<rect x="435.22" y="288.30" width="2.6" height="2.6" fill="#0a0a0a"/>
<rect x="437.98" y="284.30" width="2.6" height="2.6" fill="#0a0a0a"/>
<rect x="440.74" y="297.10" width="2.6" height="2.6" fill="#0a0a0a"/>
<rect x="443.50" y="290.10" width="2.6" height="2.6" fill="#0a0a0a"/>
<rect x="446.26" y="288.70" width="2.6" height="2.6" fill="#0a0a0a"/>
<rect x="449.02" y="289.70" width="2.6" height="2.6" fill="#0a0a0a"/>
<rect x="451.78" y="294.70" width="2.6" height="2.6" fill="#0a0a0a"/>
<rect x="454.54" y="294.10" width="2.6" height="2.6" fill="#0a0a0a"/>
<rect x="457.30" y="295.30" width="2.6" height="2.6" fill="#0a0a0a"/>
<rect x="460.06" y="294.70" width="2.6" height="2.6" fill="#0a0a0a"/>
<rect x="462.82" y="293.70" width="2.6" height="2.6" fill="#0a0a0a"/>
<rect x="465.58" y="290.30" width="2.6" height="2.6" fill="#0a0a0a"/>
<rect x="468.34" y="292.10" width="2.6" height="2.6" fill="#0a0a0a"/>
<rect x="471.10" y="294.70" width="2.6" height="2.6" fill="#0a0a0a"/>
<rect x="473.86" y="291.10" width="2.6" height="2.6" fill="#0a0a0a"/>
<rect x="476.62" y="287.10" width="2.6" height="2.6" fill="#0a0a0a"/>
<rect x="479.38" y="296.70" width="2.6" height="2.6" fill="#0a0a0a"/>
<rect x="482.14" y="294.70" width="2.6" height="2.6" fill="#0a0a0a"/>
<rect x="484.90" y="304.70" width="2.6" height="2.6" fill="#0a0a0a"/>
<rect x="487.66" y="295.70" width="2.6" height="2.6" fill="#0a0a0a"/>
<rect x="490.42" y="284.70" width="2.6" height="2.6" fill="#0a0a0a"/>
<rect x="493.18" y="294.10" width="2.6" height="2.6" fill="#0a0a0a"/>
<rect x="495.94" y="301.30" width="2.6" height="2.6" fill="#0a0a0a"/>
<rect x="498.70" y="300.70" width="2.6" height="2.6" fill="#0a0a0a"/>
<rect x="501.46" y="284.30" width="2.6" height="2.6" fill="#0a0a0a"/>
<rect x="504.22" y="288.70" width="2.6" height="2.6" fill="#0a0a0a"/>
<rect x="506.98" y="295.10" width="2.6" height="2.6" fill="#0a0a0a"/>
<rect x="509.74" y="302.30" width="2.6" height="2.6" fill="#0a0a0a"/>
<rect x="512.50" y="290.10" width="2.6" height="2.6" fill="#0a0a0a"/>
<rect x="515.26" y="297.10" width="2.6" height="2.6" fill="#0a0a0a"/>
<rect x="518.02" y="292.10" width="2.6" height="2.6" fill="#0a0a0a"/>
<rect x="520.78" y="289.10" width="2.6" height="2.6" fill="#0a0a0a"/>
<rect x="523.54" y="293.30" width="2.6" height="2.6" fill="#0a0a0a"/>
<rect x="526.30" y="293.70" width="2.6" height="2.6" fill="#0a0a0a"/>
<rect x="529.06" y="293.70" width="2.6" height="2.6" fill="#0a0a0a"/>
<rect x="531.82" y="293.70" width="2.6" height="2.6" fill="#0a0a0a"/>
<rect x="534.58" y="293.30" width="2.6" height="2.6" fill="#0a0a0a"/>
<rect x="537.34" y="293.70" width="2.6" height="2.6" fill="#0a0a0a"/>
<circle cx="136.6" cy="335.4" r="6.5" fill="#fff" stroke="#1a1a1a" stroke-width="0.9"/>
<text class="sans" x="136.6" y="337.60" font-size="5.9" font-weight="bold" text-anchor="middle" fill="#222">A</text>
<circle cx="204.0" cy="335.4" r="6.5" fill="#fff" stroke="#1a1a1a" stroke-width="0.9"/>
<text class="sans" x="204.0" y="337.60" font-size="5.9" font-weight="bold" text-anchor="middle" fill="#222">B</text>
<circle cx="271.5" cy="335.4" r="6.5" fill="#fff" stroke="#1a1a1a" stroke-width="0.9"/>
<text class="sans" x="271.5" y="337.60" font-size="5.9" font-weight="bold" text-anchor="middle" fill="#222">C</text>
<circle cx="339.0" cy="335.4" r="6.5" fill="#fff" stroke="#1a1a1a" stroke-width="0.9"/>
<text class="sans" x="339.0" y="337.60" font-size="5.9" font-weight="bold" text-anchor="middle" fill="#222">D</text>
<circle cx="406.6" cy="335.4" r="6.5" fill="#fff" stroke="#1a1a1a" stroke-width="0.9"/>
<text class="sans" x="406.6" y="337.60" font-size="5.9" font-weight="bold" text-anchor="middle" fill="#222">E</text>
<circle cx="473.9" cy="335.4" r="6.5" fill="#fff" stroke="#1a1a1a" stroke-width="0.9"/>
<text class="sans" x="473.9" y="337.60" font-size="5.9" font-weight="bold" text-anchor="middle" fill="#222">F</text>
<circle cx="541.2" cy="335.4" r="6.5" fill="#fff" stroke="#1a1a1a" stroke-width="0.9"/>
<text class="sans" x="541.2" y="337.60" font-size="5.9" font-weight="bold" text-anchor="middle" fill="#222">G</text>
</g>
<text class="serif" x="325.8" y="357.3" font-size="9" text-anchor="middle" fill="#111" stroke="#111" stroke-width="0.1" textLength="136.5" lengthAdjust="spacingAndGlyphs">Plant locations along the cross sections</text>
<circle cx="241.2" cy="367.4" r="0.75" fill="#333"/>
<text class="serif" x="245.6" y="369.9" font-size="8.2" fill="#111" stroke="#111" stroke-width="0.08" textLength="37.7" lengthAdjust="spacingAndGlyphs">All original</text>
<circle cx="295.9" cy="367.1" r="1.7" fill="#fff" stroke="#333" stroke-width="0.7"/>
<text class="serif" x="300" y="369.9" font-size="8.2" fill="#111" stroke="#111" stroke-width="0.08" textLength="44.6" lengthAdjust="spacingAndGlyphs">Point Kriging</text>
<rect x="355.9" y="365.9" width="2.6" height="2.6" fill="#111"/>
<text class="serif" x="361.8" y="369.9" font-size="8.2" fill="#111" stroke="#111" stroke-width="0.08" textLength="44.5" lengthAdjust="spacingAndGlyphs">Block Kriging</text>
</svg></body></html>
